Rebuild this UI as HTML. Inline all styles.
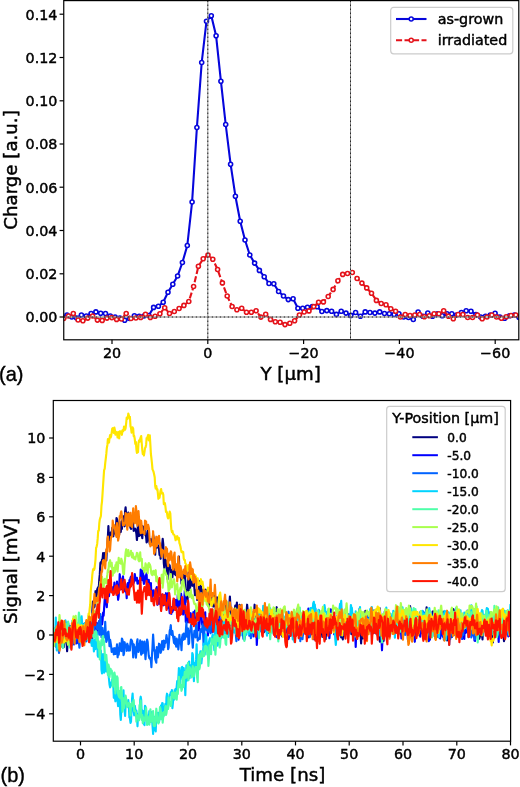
<!DOCTYPE html>
<html><head><meta charset="utf-8"><title>Figure</title>
<style>html,body{margin:0;padding:0;background:#fff;overflow:hidden}body{width:520px;height:787px;position:relative}</style></head>
<body>
<svg width="520" height="787" viewBox="0 0 520 787" style="display:block;position:absolute;left:0;top:0">
<rect x="0" y="0" width="520" height="787" fill="#fff"/>
<defs>
<clipPath id="c1"><rect x="63.75" y="0.6" width="455.04999999999995" height="339.2"/></clipPath>
</defs>
<g clip-path="url(#c1)">
<polyline points="62.2,317.0 67.0,315.0 71.8,317.0 76.6,318.0 81.4,315.0 86.3,316.0 91.1,313.5 95.9,311.9 100.7,313.2 105.5,313.5 110.3,316.0 115.1,317.0 119.9,318.0 124.7,320.3 129.5,318.5 134.4,315.7 139.2,316.2 144.0,316.0 148.8,315.5 153.6,307.4 158.4,306.2 163.2,302.3 168.0,292.3 172.8,284.2 177.6,276.0 182.4,262.5 187.3,245.5 192.1,202.0 196.9,127.5 201.7,62.5 206.5,21.2 211.3,15.8 216.1,35.8 220.9,81.2 225.7,124.5 230.6,164.2 235.4,196.2 240.2,221.2 245.0,240.0 249.8,255.0 254.6,263.1 259.4,270.4 264.2,276.7 269.0,283.5 273.8,283.8 278.6,291.5 283.5,296.0 288.3,299.6 293.1,298.8 297.9,308.3 302.7,308.2 307.5,307.3 312.3,306.6 317.1,306.7 321.9,311.5 326.8,310.6 331.6,311.2 336.4,314.4 341.2,311.2 346.0,313.1 350.8,315.4 355.6,312.5 360.4,316.3 365.2,311.9 370.0,312.5 374.9,313.1 379.7,311.9 384.5,313.5 389.3,313.8 394.1,314.5 398.9,313.8 403.7,317.0 408.5,317.5 413.3,319.5 418.1,312.0 422.9,316.2 427.8,313.0 432.6,316.2 437.4,313.8 442.2,315.8 447.0,313.8 451.8,313.8 456.6,315.0 461.4,312.5 466.2,310.8 471.0,311.2 475.9,314.5 480.7,317.0 485.5,316.2 490.3,315.0 495.1,313.2 499.9,317.0 504.7,318.2 509.5,315.8 514.3,315.0 519.1,317.5" fill="none" stroke="#0606dc" stroke-width="2.1" stroke-linejoin="round"/>
<g fill="#fff" stroke="#0606dc" stroke-width="1.6"><circle cx="62.2" cy="317.0" r="2.0"/><circle cx="67.0" cy="315.0" r="2.0"/><circle cx="71.8" cy="317.0" r="2.0"/><circle cx="76.6" cy="318.0" r="2.0"/><circle cx="81.4" cy="315.0" r="2.0"/><circle cx="86.3" cy="316.0" r="2.0"/><circle cx="91.1" cy="313.5" r="2.0"/><circle cx="95.9" cy="311.9" r="2.0"/><circle cx="100.7" cy="313.2" r="2.0"/><circle cx="105.5" cy="313.5" r="2.0"/><circle cx="110.3" cy="316.0" r="2.0"/><circle cx="115.1" cy="317.0" r="2.0"/><circle cx="119.9" cy="318.0" r="2.0"/><circle cx="124.7" cy="320.3" r="2.0"/><circle cx="129.5" cy="318.5" r="2.0"/><circle cx="134.4" cy="315.7" r="2.0"/><circle cx="139.2" cy="316.2" r="2.0"/><circle cx="144.0" cy="316.0" r="2.0"/><circle cx="148.8" cy="315.5" r="2.0"/><circle cx="153.6" cy="307.4" r="2.0"/><circle cx="158.4" cy="306.2" r="2.0"/><circle cx="163.2" cy="302.3" r="2.0"/><circle cx="168.0" cy="292.3" r="2.0"/><circle cx="172.8" cy="284.2" r="2.0"/><circle cx="177.6" cy="276.0" r="2.0"/><circle cx="182.4" cy="262.5" r="2.0"/><circle cx="187.3" cy="245.5" r="2.0"/><circle cx="192.1" cy="202.0" r="2.0"/><circle cx="196.9" cy="127.5" r="2.0"/><circle cx="201.7" cy="62.5" r="2.0"/><circle cx="206.5" cy="21.2" r="2.0"/><circle cx="211.3" cy="15.8" r="2.0"/><circle cx="216.1" cy="35.8" r="2.0"/><circle cx="220.9" cy="81.2" r="2.0"/><circle cx="225.7" cy="124.5" r="2.0"/><circle cx="230.6" cy="164.2" r="2.0"/><circle cx="235.4" cy="196.2" r="2.0"/><circle cx="240.2" cy="221.2" r="2.0"/><circle cx="245.0" cy="240.0" r="2.0"/><circle cx="249.8" cy="255.0" r="2.0"/><circle cx="254.6" cy="263.1" r="2.0"/><circle cx="259.4" cy="270.4" r="2.0"/><circle cx="264.2" cy="276.7" r="2.0"/><circle cx="269.0" cy="283.5" r="2.0"/><circle cx="273.8" cy="283.8" r="2.0"/><circle cx="278.6" cy="291.5" r="2.0"/><circle cx="283.5" cy="296.0" r="2.0"/><circle cx="288.3" cy="299.6" r="2.0"/><circle cx="293.1" cy="298.8" r="2.0"/><circle cx="297.9" cy="308.3" r="2.0"/><circle cx="302.7" cy="308.2" r="2.0"/><circle cx="307.5" cy="307.3" r="2.0"/><circle cx="312.3" cy="306.6" r="2.0"/><circle cx="317.1" cy="306.7" r="2.0"/><circle cx="321.9" cy="311.5" r="2.0"/><circle cx="326.8" cy="310.6" r="2.0"/><circle cx="331.6" cy="311.2" r="2.0"/><circle cx="336.4" cy="314.4" r="2.0"/><circle cx="341.2" cy="311.2" r="2.0"/><circle cx="346.0" cy="313.1" r="2.0"/><circle cx="350.8" cy="315.4" r="2.0"/><circle cx="355.6" cy="312.5" r="2.0"/><circle cx="360.4" cy="316.3" r="2.0"/><circle cx="365.2" cy="311.9" r="2.0"/><circle cx="370.0" cy="312.5" r="2.0"/><circle cx="374.9" cy="313.1" r="2.0"/><circle cx="379.7" cy="311.9" r="2.0"/><circle cx="384.5" cy="313.5" r="2.0"/><circle cx="389.3" cy="313.8" r="2.0"/><circle cx="394.1" cy="314.5" r="2.0"/><circle cx="398.9" cy="313.8" r="2.0"/><circle cx="403.7" cy="317.0" r="2.0"/><circle cx="408.5" cy="317.5" r="2.0"/><circle cx="413.3" cy="319.5" r="2.0"/><circle cx="418.1" cy="312.0" r="2.0"/><circle cx="422.9" cy="316.2" r="2.0"/><circle cx="427.8" cy="313.0" r="2.0"/><circle cx="432.6" cy="316.2" r="2.0"/><circle cx="437.4" cy="313.8" r="2.0"/><circle cx="442.2" cy="315.8" r="2.0"/><circle cx="447.0" cy="313.8" r="2.0"/><circle cx="451.8" cy="313.8" r="2.0"/><circle cx="456.6" cy="315.0" r="2.0"/><circle cx="461.4" cy="312.5" r="2.0"/><circle cx="466.2" cy="310.8" r="2.0"/><circle cx="471.0" cy="311.2" r="2.0"/><circle cx="475.9" cy="314.5" r="2.0"/><circle cx="480.7" cy="317.0" r="2.0"/><circle cx="485.5" cy="316.2" r="2.0"/><circle cx="490.3" cy="315.0" r="2.0"/><circle cx="495.1" cy="313.2" r="2.0"/><circle cx="499.9" cy="317.0" r="2.0"/><circle cx="504.7" cy="318.2" r="2.0"/><circle cx="509.5" cy="315.8" r="2.0"/><circle cx="514.3" cy="315.0" r="2.0"/><circle cx="519.1" cy="317.5" r="2.0"/></g>
<polyline points="63.7,318.5 68.5,316.0 73.3,313.5 78.1,320.0 82.9,320.8 87.8,318.1 92.6,316.0 97.4,320.1 102.2,320.4 107.0,318.1 111.8,317.6 116.6,319.4 121.4,319.0 126.2,313.5 131.0,318.5 135.9,318.0 140.7,317.4 145.5,314.2 150.3,317.4 155.1,316.2 159.9,313.8 164.7,307.7 169.5,313.5 174.3,311.5 179.1,308.5 183.9,305.4 188.8,301.5 193.6,286.5 198.4,266.2 203.2,258.8 208.0,255.0 212.8,259.2 217.6,269.5 222.4,282.9 227.2,296.0 232.1,306.5 236.9,309.8 241.7,308.3 246.5,312.3 251.3,312.3 256.1,310.8 260.9,317.1 265.7,314.2 270.5,319.4 275.3,321.7 280.1,322.3 285.0,324.6 289.8,323.3 294.6,320.8 299.4,315.0 304.2,312.0 309.0,310.9 313.8,306.6 318.6,302.3 323.4,301.9 328.2,296.5 333.1,289.4 337.9,280.8 342.7,274.4 347.5,273.5 352.3,272.5 357.1,278.5 361.9,283.1 366.7,287.9 371.5,293.3 376.4,300.4 381.2,303.5 386.0,304.8 390.8,308.8 395.6,311.2 400.4,317.0 405.2,314.5 410.0,315.5 414.8,315.0 419.6,314.5 424.4,316.8 429.3,315.8 434.1,313.8 438.9,313.8 443.7,310.8 448.5,316.2 453.3,318.8 458.1,314.5 462.9,314.5 467.7,317.5 472.5,317.5 477.4,315.0 482.2,318.8 487.0,317.0 491.8,315.0 496.6,317.0 501.4,318.2 506.2,316.8 511.0,315.5 515.8,315.0 520.6,316.0" fill="none" stroke="#e4121a" stroke-width="2.1" stroke-linejoin="round" stroke-dasharray="6.1 2.4"/>
<g fill="#fff" stroke="#e4121a" stroke-width="1.6"><circle cx="63.7" cy="318.5" r="2.0"/><circle cx="68.5" cy="316.0" r="2.0"/><circle cx="73.3" cy="313.5" r="2.0"/><circle cx="78.1" cy="320.0" r="2.0"/><circle cx="82.9" cy="320.8" r="2.0"/><circle cx="87.8" cy="318.1" r="2.0"/><circle cx="92.6" cy="316.0" r="2.0"/><circle cx="97.4" cy="320.1" r="2.0"/><circle cx="102.2" cy="320.4" r="2.0"/><circle cx="107.0" cy="318.1" r="2.0"/><circle cx="111.8" cy="317.6" r="2.0"/><circle cx="116.6" cy="319.4" r="2.0"/><circle cx="121.4" cy="319.0" r="2.0"/><circle cx="126.2" cy="313.5" r="2.0"/><circle cx="131.0" cy="318.5" r="2.0"/><circle cx="135.9" cy="318.0" r="2.0"/><circle cx="140.7" cy="317.4" r="2.0"/><circle cx="145.5" cy="314.2" r="2.0"/><circle cx="150.3" cy="317.4" r="2.0"/><circle cx="155.1" cy="316.2" r="2.0"/><circle cx="159.9" cy="313.8" r="2.0"/><circle cx="164.7" cy="307.7" r="2.0"/><circle cx="169.5" cy="313.5" r="2.0"/><circle cx="174.3" cy="311.5" r="2.0"/><circle cx="179.1" cy="308.5" r="2.0"/><circle cx="183.9" cy="305.4" r="2.0"/><circle cx="188.8" cy="301.5" r="2.0"/><circle cx="193.6" cy="286.5" r="2.0"/><circle cx="198.4" cy="266.2" r="2.0"/><circle cx="203.2" cy="258.8" r="2.0"/><circle cx="208.0" cy="255.0" r="2.0"/><circle cx="212.8" cy="259.2" r="2.0"/><circle cx="217.6" cy="269.5" r="2.0"/><circle cx="222.4" cy="282.9" r="2.0"/><circle cx="227.2" cy="296.0" r="2.0"/><circle cx="232.1" cy="306.5" r="2.0"/><circle cx="236.9" cy="309.8" r="2.0"/><circle cx="241.7" cy="308.3" r="2.0"/><circle cx="246.5" cy="312.3" r="2.0"/><circle cx="251.3" cy="312.3" r="2.0"/><circle cx="256.1" cy="310.8" r="2.0"/><circle cx="260.9" cy="317.1" r="2.0"/><circle cx="265.7" cy="314.2" r="2.0"/><circle cx="270.5" cy="319.4" r="2.0"/><circle cx="275.3" cy="321.7" r="2.0"/><circle cx="280.1" cy="322.3" r="2.0"/><circle cx="285.0" cy="324.6" r="2.0"/><circle cx="289.8" cy="323.3" r="2.0"/><circle cx="294.6" cy="320.8" r="2.0"/><circle cx="299.4" cy="315.0" r="2.0"/><circle cx="304.2" cy="312.0" r="2.0"/><circle cx="309.0" cy="310.9" r="2.0"/><circle cx="313.8" cy="306.6" r="2.0"/><circle cx="318.6" cy="302.3" r="2.0"/><circle cx="323.4" cy="301.9" r="2.0"/><circle cx="328.2" cy="296.5" r="2.0"/><circle cx="333.1" cy="289.4" r="2.0"/><circle cx="337.9" cy="280.8" r="2.0"/><circle cx="342.7" cy="274.4" r="2.0"/><circle cx="347.5" cy="273.5" r="2.0"/><circle cx="352.3" cy="272.5" r="2.0"/><circle cx="357.1" cy="278.5" r="2.0"/><circle cx="361.9" cy="283.1" r="2.0"/><circle cx="366.7" cy="287.9" r="2.0"/><circle cx="371.5" cy="293.3" r="2.0"/><circle cx="376.4" cy="300.4" r="2.0"/><circle cx="381.2" cy="303.5" r="2.0"/><circle cx="386.0" cy="304.8" r="2.0"/><circle cx="390.8" cy="308.8" r="2.0"/><circle cx="395.6" cy="311.2" r="2.0"/><circle cx="400.4" cy="317.0" r="2.0"/><circle cx="405.2" cy="314.5" r="2.0"/><circle cx="410.0" cy="315.5" r="2.0"/><circle cx="414.8" cy="315.0" r="2.0"/><circle cx="419.6" cy="314.5" r="2.0"/><circle cx="424.4" cy="316.8" r="2.0"/><circle cx="429.3" cy="315.8" r="2.0"/><circle cx="434.1" cy="313.8" r="2.0"/><circle cx="438.9" cy="313.8" r="2.0"/><circle cx="443.7" cy="310.8" r="2.0"/><circle cx="448.5" cy="316.2" r="2.0"/><circle cx="453.3" cy="318.8" r="2.0"/><circle cx="458.1" cy="314.5" r="2.0"/><circle cx="462.9" cy="314.5" r="2.0"/><circle cx="467.7" cy="317.5" r="2.0"/><circle cx="472.5" cy="317.5" r="2.0"/><circle cx="477.4" cy="315.0" r="2.0"/><circle cx="482.2" cy="318.8" r="2.0"/><circle cx="487.0" cy="317.0" r="2.0"/><circle cx="491.8" cy="315.0" r="2.0"/><circle cx="496.6" cy="317.0" r="2.0"/><circle cx="501.4" cy="318.2" r="2.0"/><circle cx="506.2" cy="316.8" r="2.0"/><circle cx="511.0" cy="315.5" r="2.0"/><circle cx="515.8" cy="315.0" r="2.0"/><circle cx="520.6" cy="316.0" r="2.0"/></g>
<line x1="207.8" x2="207.8" y1="0.6" y2="339.8" stroke="#8a8a8a" stroke-width="1"/>
<line x1="207.8" x2="207.8" y1="0.6" y2="339.8" stroke="#1a1a1a" stroke-width="1" stroke-dasharray="1.3 2.7"/>
<line x1="350.5" x2="350.5" y1="0.6" y2="339.8" stroke="#8a8a8a" stroke-width="1"/>
<line x1="350.5" x2="350.5" y1="0.6" y2="339.8" stroke="#1a1a1a" stroke-width="1" stroke-dasharray="1.3 2.7"/>
<line x1="63.8" x2="518.8" y1="317.0" y2="317.0" stroke="#8a8a8a" stroke-width="1"/>
<line x1="63.8" x2="518.8" y1="317.0" y2="317.0" stroke="#1a1a1a" stroke-width="1" stroke-dasharray="1.3 2.7"/>
</g>
<rect x="63.75" y="0.6" width="455.04999999999995" height="339.2" fill="none" stroke="#000" stroke-width="1.2"/>
<line x1="112.0" x2="112.0" y1="339.8" y2="344.0" stroke="#000" stroke-width="1.2"/><text x="112.0" y="357.7" text-anchor="middle" font-size="14.3" font-family="DejaVu Sans, Liberation Sans, sans-serif" stroke="#000" stroke-width="0.45">20</text><line x1="207.8" x2="207.8" y1="339.8" y2="344.0" stroke="#000" stroke-width="1.2"/><text x="207.8" y="357.7" text-anchor="middle" font-size="14.3" font-family="DejaVu Sans, Liberation Sans, sans-serif" stroke="#000" stroke-width="0.45">0</text><line x1="303.6" x2="303.6" y1="339.8" y2="344.0" stroke="#000" stroke-width="1.2"/><text x="303.6" y="357.7" text-anchor="middle" font-size="14.3" font-family="DejaVu Sans, Liberation Sans, sans-serif" stroke="#000" stroke-width="0.45">−20</text><line x1="399.4" x2="399.4" y1="339.8" y2="344.0" stroke="#000" stroke-width="1.2"/><text x="399.4" y="357.7" text-anchor="middle" font-size="14.3" font-family="DejaVu Sans, Liberation Sans, sans-serif" stroke="#000" stroke-width="0.45">−40</text><line x1="495.2" x2="495.2" y1="339.8" y2="344.0" stroke="#000" stroke-width="1.2"/><text x="495.2" y="357.7" text-anchor="middle" font-size="14.3" font-family="DejaVu Sans, Liberation Sans, sans-serif" stroke="#000" stroke-width="0.45">−60</text><line x1="59.55" x2="63.75" y1="317.0" y2="317.0" stroke="#000" stroke-width="1.2"/><text x="57.4" y="322.4" text-anchor="end" font-size="14.3" font-family="DejaVu Sans, Liberation Sans, sans-serif" stroke="#000" stroke-width="0.45">0.00</text><line x1="59.55" x2="63.75" y1="273.8" y2="273.8" stroke="#000" stroke-width="1.2"/><text x="57.4" y="279.1" text-anchor="end" font-size="14.3" font-family="DejaVu Sans, Liberation Sans, sans-serif" stroke="#000" stroke-width="0.45">0.02</text><line x1="59.55" x2="63.75" y1="230.5" y2="230.5" stroke="#000" stroke-width="1.2"/><text x="57.4" y="235.9" text-anchor="end" font-size="14.3" font-family="DejaVu Sans, Liberation Sans, sans-serif" stroke="#000" stroke-width="0.45">0.04</text><line x1="59.55" x2="63.75" y1="187.2" y2="187.2" stroke="#000" stroke-width="1.2"/><text x="57.4" y="192.7" text-anchor="end" font-size="14.3" font-family="DejaVu Sans, Liberation Sans, sans-serif" stroke="#000" stroke-width="0.45">0.06</text><line x1="59.55" x2="63.75" y1="144.0" y2="144.0" stroke="#000" stroke-width="1.2"/><text x="57.4" y="149.4" text-anchor="end" font-size="14.3" font-family="DejaVu Sans, Liberation Sans, sans-serif" stroke="#000" stroke-width="0.45">0.08</text><line x1="59.55" x2="63.75" y1="100.8" y2="100.8" stroke="#000" stroke-width="1.2"/><text x="57.4" y="106.2" text-anchor="end" font-size="14.3" font-family="DejaVu Sans, Liberation Sans, sans-serif" stroke="#000" stroke-width="0.45">0.10</text><line x1="59.55" x2="63.75" y1="57.5" y2="57.5" stroke="#000" stroke-width="1.2"/><text x="57.4" y="62.9" text-anchor="end" font-size="14.3" font-family="DejaVu Sans, Liberation Sans, sans-serif" stroke="#000" stroke-width="0.45">0.12</text><line x1="59.55" x2="63.75" y1="14.2" y2="14.2" stroke="#000" stroke-width="1.2"/><text x="57.4" y="19.6" text-anchor="end" font-size="14.3" font-family="DejaVu Sans, Liberation Sans, sans-serif" stroke="#000" stroke-width="0.45">0.14</text>
<text x="290.6" y="380" text-anchor="middle" font-size="18.2" font-family="DejaVu Sans, Liberation Sans, sans-serif" stroke="#000" stroke-width="0.45">Y [µm]</text>
<text transform="translate(16.5,170) rotate(-90)" text-anchor="middle" font-size="18.2" font-family="DejaVu Sans, Liberation Sans, sans-serif" stroke="#000" stroke-width="0.45">Charge [a.u.]</text>
<rect x="390.7" y="7.3" width="122.1" height="46.5" rx="3" ry="3" fill="#fff" fill-opacity="0.8" stroke="#ccc" stroke-width="1.2"/>
<line x1="396" x2="426.5" y1="19" y2="19" stroke="#0606dc" stroke-width="2.1"/><circle cx="411.2" cy="19" r="2.0" fill="#fff" stroke="#0606dc" stroke-width="1.5"/>
<line x1="396" x2="426.5" y1="40.3" y2="40.3" stroke="#e4121a" stroke-width="2.1" stroke-dasharray="6.1 2.4"/><circle cx="411.2" cy="40.3" r="2.0" fill="#fff" stroke="#e4121a" stroke-width="1.5"/>
<text x="437.7" y="24.2" font-size="14.3" font-family="DejaVu Sans, Liberation Sans, sans-serif" stroke="#000" stroke-width="0.45">as-grown</text>
<text x="437.7" y="45.3" font-size="14.3" font-family="DejaVu Sans, Liberation Sans, sans-serif" stroke="#000" stroke-width="0.45">irradiated</text>
<text transform="translate(-1.0,380.9) scale(0.96,1)" font-size="20.8" font-family="Liberation Sans, Arial, sans-serif" stroke="#000" stroke-width="0.4">(a)</text>
<clipPath id="c2"><rect x="53.3" y="400.5" width="457.3" height="340.70000000000005"/></clipPath>
<g clip-path="url(#c2)" fill="none" stroke-width="2.15" stroke-linejoin="round">
<polyline points="54.2,638.3 54.7,641.9 55.2,640.4 55.8,640.5 56.3,632.3 56.8,625.2 57.4,633.9 57.9,635.3 58.5,628.6 59.0,627.8 59.5,631.0 60.1,636.5 60.6,632.1 61.1,630.0 61.7,640.3 62.2,640.6 62.8,647.3 63.3,646.9 63.8,647.1 64.4,640.3 64.9,642.1 65.4,635.0 66.0,634.1 66.5,639.9 67.1,651.3 67.6,642.2 68.1,636.0 68.7,636.6 69.2,644.3 69.7,640.6 70.3,640.8 70.8,636.5 71.4,626.6 71.9,632.8 72.4,629.3 73.0,625.1 73.5,632.3 74.0,632.0 74.6,630.6 75.1,632.8 75.7,638.7 76.2,631.0 76.7,625.7 77.3,637.6 77.8,628.9 78.3,631.1 78.9,633.1 79.4,620.7 80.0,627.4 80.5,639.5 81.0,634.3 81.6,630.5 82.1,632.6 82.6,629.2 83.2,630.9 83.7,626.4 84.3,623.9 84.8,634.0 85.3,632.8 85.9,634.1 86.4,632.7 86.9,637.7 87.5,634.2 88.0,628.0 88.6,619.1 89.1,618.1 89.6,630.0 90.2,626.5 90.7,618.9 91.2,627.9 91.8,619.9 92.3,611.3 92.9,601.5 93.4,602.4 93.9,607.4 94.5,606.9 95.0,601.4 95.5,591.2 96.1,597.4 96.6,595.9 97.2,589.5 97.7,588.2 98.2,587.2 98.8,587.5 99.3,579.3 99.8,574.4 100.4,563.1 100.9,562.1 101.5,563.4 102.0,559.6 102.5,560.3 103.1,553.0 103.6,554.4 104.1,553.3 104.7,559.1 105.2,552.9 105.8,560.5 106.3,560.4 106.8,549.1 107.4,546.5 107.9,536.4 108.4,526.0 109.0,540.2 109.5,541.7 110.1,535.4 110.6,532.5 111.1,535.1 111.7,533.8 112.2,527.8 112.7,529.0 113.3,536.3 113.8,532.0 114.4,530.5 114.9,533.4 115.4,527.2 116.0,527.5 116.5,518.0 117.0,519.1 117.6,521.3 118.1,524.4 118.7,525.2 119.2,534.4 119.7,529.9 120.3,523.6 120.8,531.9 121.3,521.8 121.9,528.9 122.4,520.0 123.0,523.1 123.5,516.4 124.0,520.0 124.6,526.3 125.1,511.3 125.6,507.4 126.2,515.5 126.7,518.2 127.3,518.7 127.8,520.6 128.3,512.6 128.9,519.5 129.4,521.2 129.9,525.7 130.5,527.8 131.0,528.9 131.6,518.1 132.1,522.3 132.6,520.0 133.2,525.5 133.7,530.8 134.2,530.2 134.8,530.5 135.3,528.7 135.9,530.9 136.4,533.7 136.9,540.0 137.5,534.9 138.0,522.7 138.5,532.8 139.1,535.9 139.6,526.1 140.2,521.7 140.7,535.2 141.2,532.6 141.8,534.8 142.3,538.2 142.8,526.2 143.4,527.3 143.9,530.0 144.5,534.0 145.0,530.6 145.5,535.1 146.1,536.4 146.6,542.5 147.1,541.7 147.7,530.6 148.2,537.9 148.8,537.6 149.3,540.1 149.8,544.1 150.4,544.1 150.9,539.2 151.4,542.9 152.0,543.1 152.5,540.4 153.1,534.8 153.6,537.6 154.1,542.7 154.7,551.1 155.2,554.6 155.7,542.6 156.3,541.3 156.8,547.7 157.4,546.2 157.9,545.3 158.4,546.2 159.0,549.0 159.5,554.8 160.0,549.1 160.6,558.8 161.1,550.0 161.7,547.8 162.2,544.3 162.7,538.8 163.3,544.5 163.8,562.9 164.3,567.9 164.9,558.2 165.4,565.5 166.0,562.4 166.5,560.6 167.0,575.6 167.6,579.1 168.1,566.2 168.6,564.2 169.2,565.5 169.7,565.4 170.3,571.4 170.8,575.1 171.3,570.0 171.9,574.6 172.4,577.2 172.9,566.8 173.5,566.5 174.0,566.8 174.6,573.8 175.1,574.2 175.6,575.1 176.2,572.8 176.7,567.2 177.2,569.5 177.8,564.4 178.3,560.7 178.9,556.6 179.4,572.1 179.9,566.4 180.5,570.4 181.0,575.2 181.5,583.7 182.1,579.3 182.6,573.0 183.2,576.7 183.7,578.4 184.2,579.0 184.8,573.2 185.3,581.5 185.8,593.9 186.4,589.7 186.9,596.7 187.5,602.1 188.0,585.4 188.5,572.9 189.1,580.4 189.6,590.0 190.1,588.1 190.7,577.6 191.2,581.2 191.8,584.2 192.3,585.8 192.8,585.2 193.4,581.8 193.9,583.5 194.4,588.5 195.0,595.1 195.5,590.6 196.1,594.0 196.6,589.7 197.1,599.9 197.7,596.4 198.2,595.4 198.7,597.9 199.3,581.6 199.8,581.1 200.4,590.7 200.9,586.3 201.4,590.6 202.0,604.2 202.5,591.8 203.0,589.5 203.6,591.7 204.1,598.6 204.7,597.1 205.2,595.1 205.7,589.7 206.3,594.4 206.8,595.9 207.3,590.5 207.9,600.1 208.4,604.0 209.0,607.2 209.5,590.4 210.0,589.6 210.6,591.9 211.1,595.1 211.6,599.8 212.2,601.9 212.7,605.7 213.3,606.5 213.8,603.2 214.3,595.7 214.9,600.2 215.4,606.0 215.9,610.3 216.5,608.4 217.0,597.4 217.6,602.0 218.1,607.7 218.6,612.6 219.2,616.6 219.7,610.3 220.2,605.2 220.8,611.1 221.3,612.1 221.9,611.5 222.4,612.3 222.9,620.4 223.5,616.3 224.0,616.0 224.5,609.4 225.1,614.8 225.6,607.6 226.2,602.1 226.7,611.2 227.2,613.7 227.8,609.0 228.3,609.9 228.8,613.6 229.4,604.1 229.9,596.5 230.5,608.5 231.0,614.0 231.5,618.3 232.1,615.1 232.6,623.4 233.1,622.4 233.7,612.1 234.2,619.0 234.8,609.7 235.3,605.5 235.8,611.2 236.4,608.5 236.9,602.6 237.4,613.9 238.0,620.8 238.5,624.0 239.1,614.7 239.6,604.9 240.1,608.9 240.7,621.6 241.2,624.5 241.7,622.3 242.3,618.7 242.8,620.2 243.4,618.1 243.9,617.3 244.4,619.7 245.0,618.2 245.5,616.5 246.0,617.0 246.6,611.9 247.1,604.7 247.7,610.6 248.2,617.6 248.7,624.8 249.3,617.8 249.8,627.5 250.3,624.8 250.9,611.7 251.4,611.8 252.0,620.7 252.5,630.1 253.0,625.4 253.6,623.4 254.1,613.5 254.6,604.7 255.2,615.5 255.7,624.7 256.3,626.6 256.8,620.9 257.3,622.2 257.9,627.4 258.4,624.6 258.9,628.1 259.5,617.3 260.0,614.3 260.6,616.0 261.1,623.1 261.6,619.9 262.2,622.3 262.7,624.6 263.2,626.2 263.8,632.3 264.3,631.4 264.9,620.0 265.4,622.0 265.9,619.9 266.5,618.8 267.0,632.5 267.5,629.3 268.1,621.6 268.6,619.5 269.2,621.0 269.7,614.3 270.2,618.5 270.8,627.4 271.3,625.1 271.8,615.0 272.4,618.1 272.9,628.0 273.5,613.4 274.0,612.1 274.5,611.7 275.1,621.2 275.6,624.8 276.1,624.1 276.7,607.2 277.2,614.7 277.8,611.1 278.3,620.6 278.8,622.4 279.4,631.3 279.9,625.8 280.4,620.2 281.0,628.6 281.5,619.0 282.1,621.1 282.6,628.3 283.1,625.9 283.7,623.5 284.2,621.6 284.7,624.7 285.3,627.2 285.8,626.4 286.4,631.1 286.9,632.4 287.4,624.3 288.0,620.8 288.5,631.7 289.0,627.4 289.6,629.5 290.1,629.6 290.7,621.0 291.2,623.2 291.7,616.6 292.3,625.5 292.8,623.2 293.3,626.3 293.9,628.8 294.4,623.3 295.0,625.0 295.5,622.6 296.0,626.4 296.6,631.3 297.1,625.9 297.6,621.5 298.2,618.1 298.7,626.3 299.3,626.2 299.8,631.4 300.3,622.4 300.9,630.2 301.4,634.0 301.9,622.3 302.5,616.1 303.0,629.1 303.6,630.3 304.1,629.1 304.6,629.6 305.2,623.8 305.7,628.9 306.2,628.3 306.8,622.4 307.3,626.7 307.9,624.2 308.4,631.9 308.9,637.3 309.5,637.0 310.0,620.2 310.5,627.7 311.1,628.7 311.6,629.7 312.2,629.4 312.7,626.7 313.2,619.5 313.8,633.8 314.3,639.1 314.8,635.9 315.4,633.1 315.9,620.7 316.5,619.6 317.0,630.7 317.5,634.3 318.1,626.4 318.6,621.1 319.1,639.2 319.7,628.6 320.2,630.5 320.8,623.7 321.3,631.9 321.8,631.9 322.4,636.8 322.9,631.4 323.4,617.1 324.0,618.6 324.5,627.6 325.1,634.2 325.6,639.3 326.1,631.8 326.7,627.8 327.2,627.6 327.7,628.8 328.3,632.6 328.8,626.9 329.4,622.2 329.9,612.7 330.4,609.6 331.0,621.2 331.5,626.7 332.0,624.4 332.6,627.4 333.1,628.8 333.7,627.2 334.2,630.0 334.7,622.5 335.3,622.9 335.8,621.3 336.3,623.0 336.9,626.4 337.4,627.0 338.0,623.7 338.5,624.1 339.0,621.6 339.6,625.8 340.1,634.1 340.6,631.4 341.2,637.5 341.7,634.9 342.3,633.8 342.8,639.4 343.3,627.4 343.9,622.7 344.4,623.7 344.9,625.2 345.5,626.4 346.0,629.6 346.6,627.6 347.1,628.2 347.6,627.5 348.2,632.6 348.7,626.3 349.2,624.9 349.8,627.0 350.3,627.5 350.9,625.5 351.4,634.2 351.9,625.2 352.5,622.8 353.0,621.8 353.5,621.6 354.1,626.2 354.6,623.8 355.2,618.3 355.7,618.8 356.2,623.3 356.8,631.1 357.3,621.0 357.8,615.1 358.4,617.2 358.9,625.8 359.5,635.0 360.0,625.3 360.5,632.0 361.1,643.4 361.6,632.1 362.1,638.2 362.7,638.5 363.2,631.1 363.8,620.8 364.3,626.0 364.8,621.4 365.4,610.8 365.9,611.1 366.4,621.2 367.0,626.2 367.5,632.2 368.1,629.3 368.6,622.3 369.1,621.4 369.7,621.7 370.2,619.2 370.7,627.3 371.3,624.7 371.8,619.8 372.4,619.4 372.9,618.2 373.4,622.5 374.0,626.1 374.5,624.3 375.0,631.4 375.6,633.2 376.1,621.8 376.7,622.3 377.2,625.1 377.7,635.6 378.3,631.8 378.8,632.0 379.3,636.0 379.9,641.7 380.4,630.5 381.0,621.1 381.5,623.9 382.0,629.6 382.6,626.1 383.1,625.5 383.6,641.0 384.2,629.3 384.7,620.8 385.3,617.0 385.8,610.7 386.3,612.8 386.9,617.8 387.4,618.2 387.9,617.9 388.5,625.7 389.0,624.8 389.6,618.3 390.1,614.6 390.6,625.7 391.2,627.6 391.7,623.8 392.2,618.0 392.8,621.5 393.3,617.4 393.9,627.4 394.4,625.2 394.9,621.5 395.5,614.5 396.0,614.8 396.5,628.6 397.1,627.1 397.6,620.4 398.2,625.9 398.7,628.7 399.2,615.7 399.8,615.4 400.3,618.1 400.8,622.4 401.4,617.8 401.9,622.4 402.5,620.5 403.0,631.2 403.5,632.7 404.1,627.7 404.6,629.0 405.1,622.0 405.7,623.3 406.2,628.6 406.8,624.4 407.3,623.3 407.8,618.8 408.4,626.3 408.9,625.5 409.4,614.2 410.0,606.0 410.5,608.6 411.1,619.9 411.6,619.6 412.1,613.9 412.7,623.2 413.2,629.2 413.7,623.7 414.3,622.1 414.8,630.6 415.4,637.2 415.9,634.2 416.4,623.7 417.0,628.3 417.5,626.3 418.0,622.8 418.6,621.4 419.1,625.6 419.7,624.7 420.2,631.7 420.7,632.4 421.3,633.1 421.8,623.4 422.3,628.1 422.9,633.0 423.4,630.9 424.0,627.3 424.5,624.2 425.0,634.8 425.6,633.2 426.1,623.6 426.6,607.4 427.2,614.0 427.7,621.5 428.3,616.3 428.8,610.5 429.3,622.4 429.9,624.4 430.4,616.6 430.9,618.5 431.5,620.5 432.0,623.9 432.6,611.7 433.1,611.3 433.6,618.5 434.2,623.7 434.7,636.1 435.2,626.1 435.8,626.8 436.3,624.5 436.9,623.7 437.4,630.9 437.9,636.5 438.5,626.6 439.0,628.2 439.5,626.7 440.1,626.6 440.6,628.0 441.2,634.1 441.7,618.0 442.2,618.0 442.8,614.1 443.3,611.7 443.8,625.9 444.4,639.3 444.9,637.9 445.5,638.0 446.0,633.8 446.5,632.5 447.1,640.4 447.6,632.1 448.1,636.6 448.7,628.8 449.2,628.5 449.8,629.6 450.3,628.8 450.8,631.0 451.4,633.3 451.9,637.0 452.4,625.7 453.0,611.7 453.5,609.2 454.1,614.0 454.6,621.2 455.1,627.9 455.7,620.6 456.2,627.4 456.7,630.8 457.3,632.1 457.8,630.9 458.4,632.4 458.9,631.9 459.4,635.4 460.0,627.9 460.5,613.7 461.0,623.3 461.6,626.0 462.1,621.0 462.7,621.4 463.2,630.9 463.7,626.9 464.3,620.3 464.8,622.9 465.3,622.6 465.9,617.5 466.4,627.4 467.0,627.1 467.5,626.8 468.0,621.2 468.6,637.1 469.1,634.5 469.6,629.8 470.2,622.3 470.7,619.4 471.3,619.0 471.8,631.9 472.3,623.6 472.9,626.3 473.4,627.3 473.9,622.0 474.5,630.0 475.0,636.5 475.6,630.3 476.1,634.2 476.6,630.5 477.2,624.5 477.7,622.4 478.2,618.3 478.8,629.3 479.3,638.8 479.9,636.2 480.4,636.3 480.9,635.7 481.5,627.8 482.0,633.8 482.5,639.5 483.1,626.9 483.6,627.0 484.2,625.7 484.7,625.6 485.2,623.5 485.8,624.2 486.3,618.7 486.8,621.1 487.4,621.8 487.9,624.1 488.5,633.1 489.0,628.9 489.5,627.8 490.1,628.9 490.6,634.3 491.1,622.1 491.7,629.1 492.2,639.8 492.8,642.4 493.3,634.2 493.8,631.8 494.4,634.2 494.9,631.6 495.4,633.2 496.0,629.3 496.5,634.1 497.1,630.3 497.6,620.4 498.1,614.0 498.7,631.4 499.2,633.5 499.7,632.4 500.3,626.4 500.8,634.8 501.4,633.2 501.9,630.8 502.4,635.4 503.0,635.3 503.5,634.1 504.0,641.2 504.6,637.2 505.1,628.3 505.7,623.1 506.2,626.0 506.7,633.7 507.3,626.2 507.8,617.3 508.3,618.4 508.9,624.5 509.4,628.9 510.0,623.8 510.5,630.3" stroke="#000080"/>
<polyline points="54.2,627.8 54.7,629.5 55.2,640.1 55.8,640.7 56.3,646.9 56.8,645.2 57.4,633.3 57.9,634.9 58.5,622.8 59.0,632.4 59.5,637.7 60.1,628.7 60.6,622.5 61.1,631.0 61.7,640.1 62.2,631.0 62.8,625.0 63.3,635.1 63.8,637.1 64.4,628.5 64.9,632.8 65.4,639.9 66.0,637.2 66.5,636.0 67.1,629.9 67.6,627.8 68.1,622.8 68.7,627.8 69.2,639.7 69.7,631.1 70.3,626.0 70.8,626.9 71.4,626.2 71.9,635.1 72.4,637.0 73.0,629.4 73.5,640.0 74.0,644.5 74.6,629.5 75.1,634.4 75.7,636.1 76.2,642.1 76.7,643.3 77.3,641.2 77.8,635.3 78.3,633.7 78.9,643.9 79.4,632.6 80.0,639.5 80.5,639.5 81.0,630.7 81.6,635.6 82.1,641.2 82.6,627.8 83.2,637.2 83.7,634.0 84.3,629.6 84.8,623.9 85.3,629.9 85.9,626.2 86.4,632.2 86.9,627.9 87.5,637.5 88.0,636.3 88.6,625.9 89.1,633.0 89.6,633.8 90.2,624.2 90.7,633.6 91.2,640.4 91.8,634.6 92.3,638.5 92.9,625.3 93.4,621.8 93.9,630.2 94.5,630.4 95.0,624.6 95.5,624.7 96.1,627.5 96.6,622.9 97.2,633.3 97.7,627.5 98.2,624.8 98.8,622.8 99.3,620.8 99.8,625.2 100.4,616.3 100.9,617.3 101.5,621.0 102.0,624.5 102.5,621.2 103.1,612.7 103.6,615.6 104.1,608.5 104.7,599.4 105.2,595.5 105.8,593.5 106.3,603.6 106.8,607.1 107.4,596.4 107.9,595.9 108.4,593.3 109.0,596.2 109.5,590.2 110.1,589.5 110.6,589.9 111.1,590.5 111.7,590.8 112.2,591.2 112.7,589.8 113.3,586.9 113.8,591.1 114.4,582.6 114.9,588.9 115.4,587.2 116.0,592.6 116.5,591.8 117.0,581.5 117.6,592.6 118.1,599.8 118.7,596.0 119.2,587.8 119.7,574.2 120.3,580.1 120.8,580.9 121.3,589.2 121.9,583.9 122.4,579.1 123.0,576.4 123.5,588.1 124.0,584.4 124.6,585.6 125.1,591.5 125.6,587.0 126.2,589.7 126.7,598.2 127.3,584.7 127.8,583.0 128.3,590.9 128.9,593.9 129.4,580.2 129.9,581.7 130.5,578.0 131.0,576.7 131.6,584.9 132.1,580.6 132.6,583.8 133.2,583.6 133.7,582.8 134.2,580.0 134.8,574.1 135.3,578.0 135.9,580.5 136.4,580.0 136.9,577.9 137.5,583.6 138.0,582.8 138.5,580.9 139.1,583.5 139.6,583.3 140.2,582.6 140.7,569.5 141.2,571.5 141.8,578.9 142.3,580.2 142.8,570.7 143.4,579.3 143.9,584.0 144.5,582.2 145.0,579.8 145.5,575.3 146.1,579.1 146.6,573.4 147.1,586.3 147.7,584.9 148.2,589.7 148.8,579.9 149.3,589.1 149.8,589.8 150.4,583.2 150.9,583.1 151.4,595.1 152.0,595.2 152.5,597.7 153.1,590.5 153.6,590.4 154.1,593.3 154.7,595.9 155.2,595.9 155.7,596.3 156.3,588.6 156.8,587.1 157.4,604.8 157.9,601.0 158.4,600.0 159.0,597.8 159.5,603.8 160.0,602.0 160.6,603.0 161.1,594.6 161.7,595.9 162.2,597.5 162.7,595.5 163.3,600.0 163.8,605.3 164.3,595.2 164.9,595.3 165.4,598.1 166.0,593.2 166.5,594.8 167.0,608.6 167.6,607.0 168.1,593.0 168.6,593.7 169.2,607.7 169.7,613.1 170.3,610.6 170.8,610.4 171.3,613.8 171.9,607.2 172.4,612.0 172.9,610.4 173.5,600.5 174.0,606.8 174.6,605.3 175.1,600.4 175.6,600.0 176.2,605.6 176.7,606.0 177.2,606.7 177.8,594.7 178.3,600.6 178.9,611.6 179.4,607.0 179.9,601.8 180.5,600.3 181.0,593.5 181.5,597.2 182.1,608.7 182.6,610.5 183.2,614.5 183.7,607.2 184.2,601.6 184.8,590.6 185.3,606.1 185.8,621.9 186.4,617.0 186.9,613.9 187.5,622.0 188.0,622.3 188.5,618.5 189.1,614.8 189.6,617.9 190.1,620.4 190.7,613.2 191.2,618.0 191.8,620.2 192.3,623.7 192.8,618.6 193.4,612.2 193.9,621.4 194.4,615.1 195.0,610.6 195.5,615.9 196.1,616.7 196.6,621.0 197.1,609.4 197.7,608.8 198.2,617.6 198.7,630.3 199.3,626.7 199.8,613.2 200.4,608.7 200.9,615.2 201.4,615.0 202.0,624.4 202.5,624.5 203.0,622.0 203.6,621.7 204.1,628.4 204.7,615.3 205.2,612.3 205.7,626.3 206.3,628.5 206.8,620.6 207.3,627.4 207.9,635.4 208.4,621.0 209.0,621.9 209.5,623.3 210.0,612.2 210.6,621.7 211.1,628.8 211.6,626.9 212.2,632.0 212.7,630.4 213.3,624.7 213.8,628.7 214.3,626.8 214.9,615.5 215.4,617.3 215.9,619.1 216.5,620.4 217.0,619.1 217.6,615.0 218.1,619.2 218.6,614.2 219.2,627.2 219.7,629.2 220.2,633.6 220.8,627.7 221.3,619.0 221.9,614.3 222.4,623.5 222.9,622.6 223.5,624.3 224.0,628.2 224.5,630.1 225.1,626.5 225.6,633.0 226.2,625.1 226.7,624.3 227.2,629.3 227.8,633.2 228.3,631.3 228.8,617.5 229.4,627.9 229.9,617.5 230.5,621.2 231.0,630.5 231.5,634.2 232.1,621.8 232.6,618.6 233.1,632.3 233.7,630.2 234.2,622.0 234.8,621.6 235.3,616.6 235.8,627.9 236.4,627.9 236.9,631.8 237.4,618.1 238.0,631.0 238.5,639.6 239.1,628.3 239.6,621.5 240.1,612.3 240.7,622.3 241.2,623.0 241.7,617.8 242.3,613.6 242.8,620.4 243.4,617.2 243.9,619.9 244.4,625.3 245.0,624.7 245.5,626.4 246.0,629.5 246.6,622.5 247.1,631.5 247.7,621.1 248.2,621.0 248.7,629.7 249.3,635.6 249.8,633.1 250.3,627.9 250.9,625.4 251.4,625.7 252.0,623.5 252.5,629.9 253.0,630.0 253.6,636.5 254.1,626.8 254.6,628.3 255.2,630.6 255.7,622.7 256.3,628.1 256.8,645.0 257.3,635.0 257.9,635.4 258.4,620.2 258.9,612.1 259.5,626.8 260.0,628.0 260.6,627.9 261.1,624.2 261.6,620.6 262.2,619.9 262.7,629.0 263.2,621.1 263.8,630.4 264.3,625.2 264.9,618.1 265.4,621.1 265.9,630.6 266.5,631.0 267.0,628.9 267.5,625.0 268.1,621.9 268.6,633.0 269.2,626.6 269.7,623.6 270.2,623.9 270.8,622.7 271.3,617.7 271.8,621.2 272.4,620.4 272.9,619.0 273.5,616.8 274.0,631.3 274.5,619.4 275.1,623.5 275.6,626.8 276.1,632.5 276.7,637.2 277.2,630.6 277.8,628.9 278.3,625.5 278.8,631.3 279.4,618.9 279.9,622.6 280.4,628.6 281.0,632.8 281.5,634.9 282.1,636.4 282.6,632.6 283.1,628.4 283.7,630.2 284.2,635.8 284.7,631.6 285.3,631.9 285.8,623.9 286.4,613.9 286.9,619.9 287.4,629.2 288.0,638.0 288.5,639.1 289.0,636.9 289.6,625.4 290.1,629.8 290.7,628.5 291.2,630.5 291.7,625.3 292.3,619.0 292.8,628.1 293.3,628.7 293.9,627.5 294.4,620.4 295.0,629.0 295.5,632.8 296.0,634.6 296.6,632.4 297.1,618.2 297.6,608.5 298.2,623.9 298.7,619.1 299.3,623.0 299.8,631.7 300.3,629.7 300.9,629.7 301.4,629.0 301.9,620.1 302.5,635.5 303.0,627.1 303.6,624.3 304.1,627.4 304.6,622.0 305.2,616.3 305.7,618.2 306.2,617.0 306.8,619.5 307.3,631.4 307.9,615.1 308.4,608.6 308.9,616.0 309.5,621.5 310.0,633.4 310.5,629.7 311.1,631.2 311.6,628.7 312.2,622.3 312.7,630.2 313.2,632.0 313.8,639.1 314.3,630.7 314.8,627.3 315.4,631.0 315.9,627.7 316.5,616.0 317.0,629.8 317.5,632.9 318.1,628.5 318.6,615.5 319.1,610.6 319.7,621.9 320.2,630.6 320.8,628.1 321.3,621.5 321.8,627.5 322.4,616.5 322.9,615.3 323.4,622.5 324.0,620.8 324.5,618.0 325.1,617.0 325.6,628.3 326.1,621.7 326.7,628.4 327.2,631.8 327.7,627.4 328.3,628.9 328.8,634.6 329.4,638.2 329.9,631.3 330.4,614.8 331.0,609.5 331.5,615.3 332.0,616.6 332.6,625.7 333.1,625.9 333.7,626.2 334.2,634.4 334.7,634.7 335.3,628.7 335.8,630.0 336.3,632.0 336.9,624.6 337.4,623.7 338.0,618.3 338.5,622.9 339.0,625.7 339.6,624.2 340.1,626.4 340.6,629.7 341.2,627.8 341.7,621.3 342.3,619.8 342.8,620.7 343.3,635.0 343.9,630.8 344.4,626.9 344.9,623.4 345.5,625.8 346.0,625.1 346.6,618.8 347.1,623.2 347.6,629.2 348.2,617.6 348.7,618.5 349.2,626.2 349.8,622.2 350.3,626.2 350.9,619.3 351.4,625.5 351.9,630.7 352.5,630.0 353.0,630.4 353.5,625.2 354.1,623.6 354.6,624.8 355.2,633.0 355.7,647.0 356.2,632.9 356.8,636.8 357.3,626.2 357.8,619.0 358.4,623.2 358.9,627.1 359.5,625.7 360.0,624.9 360.5,627.0 361.1,628.3 361.6,627.4 362.1,617.4 362.7,620.1 363.2,618.0 363.8,623.2 364.3,623.6 364.8,624.1 365.4,620.8 365.9,619.4 366.4,624.1 367.0,630.4 367.5,628.0 368.1,615.4 368.6,622.2 369.1,621.7 369.7,611.6 370.2,612.2 370.7,617.8 371.3,620.4 371.8,608.6 372.4,615.9 372.9,618.8 373.4,624.5 374.0,632.6 374.5,631.2 375.0,620.7 375.6,619.2 376.1,624.6 376.7,631.9 377.2,634.1 377.7,630.6 378.3,633.4 378.8,621.9 379.3,615.3 379.9,608.4 380.4,619.9 381.0,631.8 381.5,639.2 382.0,650.3 382.6,636.2 383.1,627.5 383.6,620.7 384.2,621.4 384.7,622.9 385.3,624.5 385.8,620.9 386.3,618.7 386.9,631.1 387.4,632.7 387.9,633.4 388.5,618.2 389.0,617.3 389.6,624.4 390.1,634.8 390.6,629.8 391.2,629.2 391.7,627.9 392.2,627.8 392.8,625.3 393.3,627.8 393.9,622.4 394.4,624.3 394.9,627.2 395.5,626.5 396.0,625.6 396.5,619.9 397.1,623.6 397.6,623.2 398.2,628.7 398.7,633.6 399.2,625.0 399.8,631.5 400.3,625.0 400.8,627.2 401.4,638.5 401.9,636.1 402.5,632.2 403.0,633.3 403.5,632.5 404.1,622.7 404.6,624.5 405.1,623.4 405.7,626.6 406.2,625.5 406.8,630.0 407.3,626.5 407.8,622.5 408.4,625.3 408.9,629.7 409.4,632.2 410.0,625.3 410.5,623.3 411.1,627.6 411.6,630.1 412.1,621.0 412.7,612.6 413.2,626.0 413.7,626.5 414.3,629.2 414.8,641.8 415.4,630.5 415.9,627.8 416.4,618.8 417.0,626.3 417.5,631.1 418.0,628.0 418.6,626.1 419.1,629.5 419.7,630.3 420.2,636.6 420.7,631.1 421.3,622.1 421.8,615.2 422.3,621.1 422.9,623.6 423.4,618.6 424.0,617.0 424.5,614.4 425.0,618.8 425.6,626.5 426.1,626.1 426.6,625.5 427.2,624.6 427.7,626.1 428.3,633.9 428.8,641.1 429.3,636.7 429.9,639.6 430.4,629.2 430.9,628.8 431.5,635.2 432.0,623.2 432.6,619.7 433.1,621.6 433.6,613.0 434.2,613.8 434.7,628.4 435.2,620.6 435.8,621.3 436.3,622.2 436.9,622.5 437.4,632.2 437.9,634.8 438.5,636.1 439.0,634.9 439.5,632.6 440.1,638.5 440.6,635.1 441.2,625.1 441.7,625.2 442.2,626.1 442.8,636.8 443.3,632.9 443.8,628.9 444.4,626.0 444.9,626.7 445.5,620.3 446.0,624.1 446.5,625.4 447.1,624.4 447.6,621.9 448.1,625.1 448.7,618.0 449.2,619.9 449.8,623.0 450.3,623.8 450.8,620.8 451.4,617.5 451.9,617.9 452.4,620.3 453.0,618.7 453.5,620.1 454.1,616.1 454.6,625.2 455.1,634.8 455.7,620.2 456.2,625.0 456.7,633.4 457.3,630.6 457.8,628.4 458.4,613.3 458.9,620.6 459.4,631.4 460.0,622.9 460.5,621.8 461.0,614.1 461.6,630.4 462.1,638.9 462.7,628.1 463.2,627.8 463.7,631.9 464.3,638.9 464.8,624.4 465.3,618.4 465.9,632.8 466.4,621.9 467.0,622.9 467.5,610.7 468.0,618.7 468.6,623.6 469.1,618.0 469.6,621.5 470.2,627.4 470.7,623.6 471.3,631.3 471.8,635.7 472.3,619.1 472.9,628.6 473.4,632.9 473.9,630.8 474.5,640.6 475.0,640.9 475.6,635.3 476.1,633.0 476.6,627.7 477.2,622.8 477.7,629.2 478.2,625.3 478.8,625.1 479.3,632.2 479.9,628.0 480.4,629.5 480.9,619.8 481.5,620.7 482.0,625.8 482.5,632.1 483.1,626.7 483.6,627.8 484.2,622.2 484.7,626.7 485.2,630.1 485.8,621.6 486.3,622.5 486.8,628.1 487.4,621.8 487.9,627.7 488.5,629.2 489.0,627.9 489.5,632.0 490.1,631.0 490.6,626.2 491.1,615.5 491.7,615.6 492.2,623.1 492.8,617.0 493.3,623.3 493.8,622.5 494.4,619.7 494.9,619.3 495.4,610.7 496.0,622.4 496.5,630.2 497.1,619.8 497.6,626.0 498.1,631.9 498.7,641.9 499.2,622.7 499.7,618.3 500.3,618.9 500.8,617.2 501.4,615.6 501.9,623.7 502.4,623.2 503.0,631.2 503.5,629.4 504.0,621.4 504.6,625.8 505.1,634.5 505.7,627.6 506.2,629.0 506.7,631.3 507.3,625.5 507.8,629.6 508.3,636.4 508.9,630.5 509.4,617.0 510.0,629.1 510.5,622.5" stroke="#0000ff"/>
<polyline points="54.2,634.1 54.7,640.4 55.2,636.8 55.8,636.2 56.3,637.4 56.8,631.2 57.4,629.1 57.9,640.4 58.5,646.0 59.0,652.9 59.5,642.8 60.1,642.0 60.6,646.6 61.1,633.3 61.7,629.0 62.2,635.1 62.8,636.0 63.3,636.9 63.8,631.6 64.4,640.3 64.9,633.5 65.4,621.5 66.0,628.3 66.5,629.8 67.1,634.8 67.6,640.8 68.1,636.4 68.7,635.0 69.2,640.6 69.7,633.5 70.3,626.3 70.8,629.4 71.4,643.6 71.9,645.1 72.4,644.4 73.0,631.3 73.5,630.2 74.0,632.5 74.6,641.5 75.1,643.4 75.7,636.4 76.2,635.3 76.7,638.7 77.3,633.5 77.8,629.9 78.3,633.3 78.9,642.4 79.4,647.6 80.0,638.3 80.5,634.3 81.0,637.0 81.6,639.7 82.1,640.2 82.6,634.2 83.2,636.3 83.7,637.6 84.3,642.2 84.8,639.6 85.3,635.2 85.9,640.0 86.4,641.3 86.9,634.4 87.5,626.2 88.0,628.0 88.6,624.2 89.1,630.8 89.6,634.7 90.2,639.1 90.7,632.8 91.2,621.9 91.8,624.8 92.3,624.2 92.9,624.6 93.4,628.7 93.9,630.1 94.5,627.6 95.0,624.2 95.5,624.1 96.1,623.8 96.6,625.7 97.2,629.3 97.7,627.7 98.2,627.6 98.8,622.2 99.3,634.8 99.8,626.0 100.4,614.1 100.9,628.5 101.5,637.3 102.0,632.6 102.5,627.9 103.1,634.7 103.6,634.3 104.1,637.5 104.7,636.4 105.2,621.9 105.8,634.9 106.3,642.0 106.8,640.6 107.4,634.7 107.9,632.4 108.4,631.6 109.0,637.8 109.5,646.1 110.1,639.8 110.6,642.7 111.1,646.0 111.7,652.0 112.2,649.6 112.7,649.1 113.3,648.5 113.8,654.3 114.4,648.5 114.9,648.1 115.4,654.0 116.0,652.7 116.5,649.9 117.0,644.3 117.6,657.3 118.1,651.6 118.7,654.7 119.2,648.8 119.7,643.3 120.3,649.9 120.8,650.0 121.3,651.1 121.9,638.5 122.4,639.7 123.0,642.8 123.5,655.2 124.0,653.7 124.6,642.2 125.1,645.5 125.6,646.2 126.2,645.1 126.7,650.8 127.3,643.7 127.8,645.5 128.3,646.3 128.9,650.7 129.4,647.6 129.9,650.5 130.5,642.8 131.0,639.5 131.6,640.2 132.1,641.3 132.6,644.6 133.2,657.5 133.7,644.3 134.2,646.1 134.8,647.5 135.3,651.7 135.9,657.6 136.4,652.3 136.9,642.7 137.5,639.3 138.0,650.1 138.5,652.0 139.1,643.5 139.6,650.0 140.2,640.4 140.7,649.2 141.2,654.7 141.8,644.2 142.3,641.5 142.8,653.3 143.4,643.0 143.9,646.3 144.5,641.6 145.0,651.7 145.5,659.2 146.1,650.3 146.6,645.0 147.1,639.6 147.7,642.0 148.2,649.4 148.8,656.0 149.3,658.1 149.8,657.7 150.4,659.4 150.9,659.9 151.4,667.2 152.0,654.5 152.5,647.1 153.1,634.6 153.6,642.5 154.1,650.7 154.7,650.0 155.2,658.9 155.7,660.6 156.3,662.7 156.8,647.0 157.4,648.9 157.9,657.4 158.4,651.3 159.0,643.7 159.5,644.2 160.0,646.6 160.6,652.8 161.1,651.6 161.7,645.2 162.2,641.0 162.7,649.2 163.3,649.7 163.8,640.6 164.3,647.1 164.9,641.1 165.4,643.0 166.0,639.7 166.5,635.1 167.0,638.8 167.6,641.0 168.1,649.1 168.6,647.6 169.2,638.1 169.7,630.9 170.3,628.5 170.8,625.2 171.3,633.9 171.9,634.9 172.4,631.1 172.9,635.3 173.5,639.1 174.0,642.9 174.6,636.9 175.1,644.2 175.6,641.5 176.2,646.7 176.7,638.5 177.2,644.4 177.8,640.4 178.3,649.5 178.9,643.6 179.4,634.9 179.9,641.6 180.5,639.5 181.0,643.3 181.5,650.1 182.1,637.4 182.6,634.6 183.2,639.8 183.7,633.5 184.2,638.1 184.8,639.0 185.3,634.2 185.8,632.4 186.4,622.3 186.9,636.6 187.5,629.0 188.0,628.5 188.5,644.1 189.1,643.2 189.6,631.0 190.1,631.9 190.7,627.3 191.2,624.2 191.8,632.8 192.3,641.4 192.8,647.7 193.4,635.4 193.9,636.0 194.4,630.9 195.0,632.2 195.5,637.5 196.1,624.0 196.6,624.3 197.1,629.8 197.7,640.6 198.2,639.2 198.7,638.3 199.3,638.1 199.8,639.0 200.4,630.9 200.9,629.2 201.4,629.7 202.0,631.8 202.5,624.3 203.0,631.3 203.6,645.2 204.1,635.7 204.7,627.3 205.2,622.2 205.7,627.7 206.3,629.7 206.8,630.1 207.3,624.7 207.9,629.2 208.4,631.8 209.0,630.9 209.5,624.9 210.0,629.8 210.6,633.2 211.1,622.6 211.6,624.9 212.2,621.4 212.7,620.2 213.3,617.6 213.8,621.2 214.3,630.9 214.9,632.6 215.4,633.8 215.9,619.9 216.5,621.0 217.0,620.0 217.6,631.2 218.1,639.0 218.6,623.8 219.2,626.5 219.7,627.7 220.2,626.4 220.8,622.9 221.3,625.5 221.9,633.7 222.4,623.9 222.9,628.6 223.5,626.7 224.0,614.6 224.5,617.2 225.1,627.1 225.6,634.5 226.2,625.1 226.7,621.5 227.2,626.5 227.8,633.5 228.3,633.2 228.8,632.8 229.4,623.8 229.9,617.5 230.5,617.4 231.0,625.3 231.5,622.0 232.1,620.8 232.6,626.5 233.1,623.7 233.7,614.4 234.2,622.3 234.8,624.5 235.3,631.5 235.8,634.0 236.4,641.1 236.9,632.0 237.4,620.7 238.0,614.1 238.5,617.6 239.1,622.1 239.6,627.3 240.1,631.7 240.7,629.5 241.2,626.6 241.7,630.4 242.3,624.6 242.8,633.2 243.4,639.0 243.9,637.0 244.4,639.7 245.0,636.2 245.5,624.4 246.0,628.2 246.6,626.7 247.1,620.7 247.7,621.1 248.2,627.9 248.7,621.4 249.3,624.7 249.8,627.7 250.3,628.8 250.9,638.1 251.4,636.5 252.0,631.0 252.5,627.3 253.0,630.9 253.6,628.6 254.1,620.8 254.6,617.1 255.2,618.8 255.7,618.8 256.3,626.6 256.8,626.9 257.3,623.4 257.9,625.9 258.4,624.9 258.9,616.2 259.5,625.5 260.0,631.4 260.6,623.4 261.1,616.7 261.6,623.0 262.2,620.8 262.7,627.7 263.2,629.7 263.8,629.2 264.3,623.0 264.9,614.9 265.4,624.8 265.9,617.0 266.5,626.9 267.0,624.8 267.5,618.2 268.1,618.6 268.6,624.0 269.2,633.0 269.7,626.9 270.2,626.9 270.8,612.4 271.3,621.9 271.8,625.1 272.4,631.1 272.9,630.7 273.5,631.6 274.0,622.3 274.5,625.1 275.1,624.0 275.6,629.2 276.1,626.9 276.7,619.0 277.2,629.4 277.8,633.2 278.3,623.4 278.8,627.4 279.4,623.7 279.9,617.9 280.4,623.8 281.0,619.5 281.5,623.2 282.1,613.9 282.6,614.6 283.1,625.0 283.7,627.4 284.2,629.3 284.7,623.0 285.3,619.2 285.8,628.1 286.4,620.6 286.9,628.3 287.4,629.7 288.0,628.8 288.5,611.7 289.0,618.2 289.6,622.2 290.1,625.6 290.7,622.2 291.2,634.7 291.7,624.3 292.3,613.0 292.8,624.4 293.3,625.6 293.9,624.0 294.4,630.4 295.0,626.2 295.5,620.3 296.0,622.5 296.6,623.2 297.1,626.0 297.6,623.9 298.2,623.0 298.7,617.4 299.3,621.6 299.8,631.7 300.3,641.1 300.9,626.2 301.4,623.1 301.9,632.9 302.5,639.1 303.0,632.2 303.6,622.0 304.1,629.5 304.6,628.5 305.2,623.1 305.7,618.7 306.2,624.5 306.8,627.3 307.3,626.9 307.9,616.4 308.4,618.7 308.9,628.4 309.5,637.0 310.0,633.8 310.5,627.0 311.1,629.6 311.6,622.3 312.2,621.9 312.7,621.0 313.2,617.8 313.8,618.8 314.3,624.9 314.8,619.5 315.4,608.5 315.9,623.5 316.5,622.7 317.0,616.2 317.5,623.8 318.1,632.3 318.6,635.7 319.1,626.6 319.7,620.8 320.2,618.7 320.8,622.5 321.3,619.8 321.8,626.7 322.4,622.8 322.9,623.9 323.4,619.4 324.0,614.8 324.5,615.8 325.1,624.5 325.6,618.0 326.1,626.0 326.7,630.5 327.2,628.1 327.7,631.6 328.3,624.2 328.8,620.9 329.4,622.1 329.9,620.1 330.4,623.6 331.0,625.0 331.5,630.2 332.0,624.8 332.6,626.9 333.1,625.4 333.7,622.7 334.2,623.5 334.7,633.5 335.3,634.1 335.8,625.9 336.3,619.9 336.9,618.7 337.4,615.6 338.0,614.2 338.5,619.8 339.0,626.6 339.6,634.3 340.1,635.6 340.6,632.2 341.2,626.9 341.7,625.3 342.3,625.3 342.8,624.1 343.3,619.6 343.9,620.2 344.4,620.0 344.9,621.0 345.5,626.6 346.0,628.8 346.6,621.8 347.1,621.8 347.6,626.4 348.2,624.8 348.7,614.0 349.2,625.8 349.8,625.6 350.3,623.6 350.9,628.8 351.4,621.3 351.9,611.6 352.5,615.0 353.0,618.6 353.5,620.7 354.1,623.1 354.6,621.3 355.2,627.1 355.7,629.4 356.2,625.5 356.8,620.6 357.3,621.8 357.8,624.1 358.4,634.1 358.9,618.3 359.5,608.9 360.0,615.3 360.5,626.8 361.1,630.8 361.6,627.4 362.1,630.9 362.7,625.2 363.2,627.8 363.8,620.7 364.3,621.2 364.8,636.5 365.4,630.2 365.9,634.0 366.4,638.6 367.0,634.6 367.5,629.0 368.1,624.0 368.6,632.0 369.1,619.4 369.7,612.5 370.2,619.9 370.7,623.9 371.3,629.5 371.8,634.6 372.4,626.7 372.9,624.2 373.4,619.2 374.0,610.3 374.5,617.6 375.0,619.5 375.6,617.3 376.1,631.7 376.7,633.9 377.2,630.0 377.7,628.6 378.3,622.4 378.8,622.6 379.3,612.2 379.9,611.4 380.4,617.5 381.0,623.8 381.5,619.7 382.0,619.7 382.6,627.5 383.1,621.2 383.6,617.5 384.2,617.8 384.7,611.5 385.3,614.8 385.8,625.8 386.3,625.2 386.9,627.9 387.4,624.0 387.9,628.1 388.5,621.4 389.0,621.4 389.6,620.6 390.1,627.7 390.6,631.7 391.2,617.6 391.7,621.1 392.2,616.1 392.8,618.7 393.3,617.0 393.9,612.3 394.4,617.4 394.9,617.2 395.5,628.2 396.0,620.5 396.5,623.5 397.1,624.8 397.6,623.9 398.2,620.5 398.7,617.8 399.2,632.8 399.8,628.2 400.3,627.3 400.8,620.7 401.4,626.5 401.9,625.9 402.5,628.8 403.0,624.0 403.5,622.6 404.1,629.1 404.6,630.2 405.1,634.9 405.7,626.2 406.2,622.6 406.8,627.3 407.3,624.3 407.8,639.2 408.4,641.4 408.9,636.8 409.4,630.0 410.0,625.6 410.5,624.9 411.1,623.2 411.6,619.6 412.1,625.4 412.7,630.9 413.2,626.8 413.7,614.2 414.3,631.4 414.8,623.3 415.4,612.8 415.9,618.1 416.4,625.8 417.0,621.9 417.5,615.3 418.0,614.8 418.6,623.5 419.1,617.7 419.7,616.9 420.2,612.3 420.7,611.7 421.3,622.4 421.8,628.7 422.3,618.8 422.9,611.2 423.4,617.2 424.0,619.0 424.5,612.6 425.0,625.9 425.6,621.7 426.1,626.2 426.6,624.9 427.2,622.1 427.7,617.9 428.3,629.3 428.8,632.3 429.3,634.9 429.9,626.1 430.4,627.2 430.9,625.7 431.5,632.0 432.0,628.4 432.6,621.2 433.1,624.4 433.6,620.8 434.2,620.3 434.7,626.1 435.2,629.8 435.8,618.2 436.3,618.1 436.9,618.8 437.4,633.8 437.9,636.5 438.5,637.2 439.0,628.9 439.5,618.2 440.1,620.3 440.6,625.3 441.2,625.0 441.7,623.1 442.2,627.1 442.8,625.0 443.3,628.7 443.8,639.8 444.4,630.9 444.9,621.5 445.5,628.8 446.0,630.4 446.5,632.1 447.1,629.2 447.6,621.3 448.1,627.2 448.7,635.8 449.2,644.8 449.8,635.4 450.3,639.1 450.8,635.9 451.4,620.3 451.9,619.9 452.4,630.1 453.0,618.8 453.5,619.2 454.1,625.4 454.6,622.8 455.1,634.0 455.7,635.6 456.2,636.0 456.7,631.7 457.3,623.3 457.8,632.8 458.4,634.9 458.9,632.4 459.4,627.0 460.0,627.4 460.5,624.4 461.0,633.2 461.6,638.3 462.1,634.6 462.7,632.1 463.2,634.8 463.7,626.4 464.3,618.2 464.8,627.1 465.3,623.5 465.9,616.7 466.4,625.2 467.0,628.9 467.5,628.7 468.0,621.4 468.6,620.7 469.1,625.3 469.6,624.8 470.2,619.7 470.7,624.9 471.3,637.4 471.8,633.5 472.3,630.4 472.9,627.9 473.4,632.2 473.9,634.8 474.5,635.4 475.0,639.3 475.6,631.6 476.1,630.3 476.6,626.5 477.2,631.6 477.7,630.0 478.2,631.0 478.8,628.6 479.3,619.5 479.9,621.6 480.4,620.2 480.9,626.4 481.5,625.0 482.0,632.6 482.5,629.5 483.1,627.5 483.6,623.1 484.2,625.4 484.7,627.4 485.2,623.7 485.8,625.2 486.3,622.7 486.8,620.3 487.4,622.8 487.9,622.5 488.5,619.1 489.0,620.7 489.5,616.4 490.1,612.3 490.6,615.5 491.1,625.5 491.7,632.2 492.2,628.2 492.8,626.2 493.3,621.9 493.8,627.8 494.4,626.7 494.9,621.8 495.4,625.8 496.0,622.6 496.5,612.0 497.1,612.2 497.6,618.5 498.1,624.2 498.7,630.3 499.2,624.9 499.7,625.9 500.3,626.7 500.8,629.3 501.4,626.7 501.9,625.1 502.4,620.1 503.0,614.2 503.5,621.4 504.0,633.6 504.6,633.9 505.1,635.5 505.7,629.8 506.2,621.0 506.7,621.0 507.3,625.6 507.8,624.0 508.3,629.9 508.9,635.4 509.4,635.6 510.0,629.3 510.5,619.6" stroke="#0063ff"/>
<polyline points="54.2,633.6 54.7,639.0 55.2,635.7 55.8,617.6 56.3,636.9 56.8,650.5 57.4,646.2 57.9,640.9 58.5,638.9 59.0,637.8 59.5,640.4 60.1,633.2 60.6,638.8 61.1,645.6 61.7,643.5 62.2,638.2 62.8,630.1 63.3,631.1 63.8,635.5 64.4,633.5 64.9,628.3 65.4,620.4 66.0,632.5 66.5,629.5 67.1,629.1 67.6,638.1 68.1,634.5 68.7,635.0 69.2,638.5 69.7,633.0 70.3,628.6 70.8,629.0 71.4,635.9 71.9,631.1 72.4,620.9 73.0,635.8 73.5,630.5 74.0,624.4 74.6,626.6 75.1,625.2 75.7,626.9 76.2,623.8 76.7,622.9 77.3,632.0 77.8,633.1 78.3,635.3 78.9,637.4 79.4,636.9 80.0,639.6 80.5,627.2 81.0,617.6 81.6,616.3 82.1,622.5 82.6,633.5 83.2,625.1 83.7,634.5 84.3,631.2 84.8,623.1 85.3,636.0 85.9,629.8 86.4,631.4 86.9,636.5 87.5,640.0 88.0,634.6 88.6,635.9 89.1,627.5 89.6,627.9 90.2,642.5 90.7,640.8 91.2,639.9 91.8,645.8 92.3,645.9 92.9,639.8 93.4,643.0 93.9,651.4 94.5,645.4 95.0,639.9 95.5,649.1 96.1,646.7 96.6,631.9 97.2,635.6 97.7,655.5 98.2,656.8 98.8,648.6 99.3,654.7 99.8,651.8 100.4,650.6 100.9,650.6 101.5,669.8 102.0,673.4 102.5,665.6 103.1,654.1 103.6,662.5 104.1,672.7 104.7,662.7 105.2,661.2 105.8,668.8 106.3,671.5 106.8,667.6 107.4,665.2 107.9,672.0 108.4,673.9 109.0,679.0 109.5,684.2 110.1,687.3 110.6,682.7 111.1,685.4 111.7,685.2 112.2,679.6 112.7,681.2 113.3,684.8 113.8,697.8 114.4,691.5 114.9,697.1 115.4,701.3 116.0,699.1 116.5,687.1 117.0,689.3 117.6,701.3 118.1,706.2 118.7,702.4 119.2,702.4 119.7,696.4 120.3,714.6 120.8,720.0 121.3,710.4 121.9,705.9 122.4,703.3 123.0,696.5 123.5,690.4 124.0,703.5 124.6,710.6 125.1,715.9 125.6,705.1 126.2,701.1 126.7,706.1 127.3,701.7 127.8,705.2 128.3,700.0 128.9,707.5 129.4,717.4 129.9,718.1 130.5,722.9 131.0,721.7 131.6,707.7 132.1,698.4 132.6,693.6 133.2,705.2 133.7,711.7 134.2,715.3 134.8,705.7 135.3,709.1 135.9,715.7 136.4,710.6 136.9,714.3 137.5,726.3 138.0,714.7 138.5,714.8 139.1,718.1 139.6,714.3 140.2,699.9 140.7,696.7 141.2,699.8 141.8,717.7 142.3,717.4 142.8,710.7 143.4,721.4 143.9,724.0 144.5,725.1 145.0,705.8 145.5,706.8 146.1,713.0 146.6,716.9 147.1,721.3 147.7,720.3 148.2,715.5 148.8,718.8 149.3,711.2 149.8,719.8 150.4,721.9 150.9,711.7 151.4,716.9 152.0,716.9 152.5,725.2 153.1,734.0 153.6,722.2 154.1,725.6 154.7,716.8 155.2,729.5 155.7,731.4 156.3,717.2 156.8,712.8 157.4,715.9 157.9,720.8 158.4,712.8 159.0,722.1 159.5,719.2 160.0,718.1 160.6,712.8 161.1,705.4 161.7,709.7 162.2,703.1 162.7,703.2 163.3,716.6 163.8,715.1 164.3,708.9 164.9,706.7 165.4,703.9 166.0,711.4 166.5,697.2 167.0,693.7 167.6,700.9 168.1,707.5 168.6,701.2 169.2,700.3 169.7,694.5 170.3,694.9 170.8,692.0 171.3,694.5 171.9,690.0 172.4,708.2 172.9,703.2 173.5,694.1 174.0,699.7 174.6,690.2 175.1,694.8 175.6,688.9 176.2,690.3 176.7,686.3 177.2,681.2 177.8,682.0 178.3,680.2 178.9,668.1 179.4,679.1 179.9,685.4 180.5,674.8 181.0,671.4 181.5,667.6 182.1,666.9 182.6,679.3 183.2,670.2 183.7,668.0 184.2,674.4 184.8,679.5 185.3,695.1 185.8,680.0 186.4,665.3 186.9,680.6 187.5,675.9 188.0,667.9 188.5,663.2 189.1,661.5 189.6,678.3 190.1,670.5 190.7,665.3 191.2,675.1 191.8,666.9 192.3,653.1 192.8,654.3 193.4,664.4 193.9,681.1 194.4,669.2 195.0,662.8 195.5,665.7 196.1,659.9 196.6,644.3 197.1,660.6 197.7,667.6 198.2,660.8 198.7,661.0 199.3,660.3 199.8,656.7 200.4,651.4 200.9,655.4 201.4,663.3 202.0,657.1 202.5,651.9 203.0,653.0 203.6,643.7 204.1,645.5 204.7,654.8 205.2,646.5 205.7,634.3 206.3,636.5 206.8,645.2 207.3,643.2 207.9,651.5 208.4,654.3 209.0,642.0 209.5,639.4 210.0,638.2 210.6,640.1 211.1,639.6 211.6,642.5 212.2,636.8 212.7,634.3 213.3,637.8 213.8,637.4 214.3,650.2 214.9,643.8 215.4,627.1 215.9,623.6 216.5,633.2 217.0,640.0 217.6,645.6 218.1,636.5 218.6,634.5 219.2,644.1 219.7,633.9 220.2,630.1 220.8,631.9 221.3,638.2 221.9,632.3 222.4,636.8 222.9,622.5 223.5,627.6 224.0,633.3 224.5,619.0 225.1,618.2 225.6,624.4 226.2,613.6 226.7,626.9 227.2,622.5 227.8,621.0 228.3,637.0 228.8,624.1 229.4,625.9 229.9,629.2 230.5,633.7 231.0,628.7 231.5,635.2 232.1,635.2 232.6,632.3 233.1,631.3 233.7,619.1 234.2,632.0 234.8,632.5 235.3,628.7 235.8,625.0 236.4,619.7 236.9,620.1 237.4,627.3 238.0,628.9 238.5,625.1 239.1,619.4 239.6,620.5 240.1,630.5 240.7,635.4 241.2,613.2 241.7,615.3 242.3,621.5 242.8,623.5 243.4,629.6 243.9,632.8 244.4,629.0 245.0,627.6 245.5,631.1 246.0,635.0 246.6,627.5 247.1,621.4 247.7,625.2 248.2,626.2 248.7,634.8 249.3,625.6 249.8,623.5 250.3,631.0 250.9,632.4 251.4,621.5 252.0,623.7 252.5,619.0 253.0,621.3 253.6,618.0 254.1,624.7 254.6,631.6 255.2,625.0 255.7,623.0 256.3,619.3 256.8,625.0 257.3,624.8 257.9,616.4 258.4,612.8 258.9,613.9 259.5,612.9 260.0,614.9 260.6,613.1 261.1,612.3 261.6,615.8 262.2,618.9 262.7,616.0 263.2,605.9 263.8,618.2 264.3,623.9 264.9,624.4 265.4,621.8 265.9,621.7 266.5,631.5 267.0,635.7 267.5,625.7 268.1,631.1 268.6,622.2 269.2,618.1 269.7,611.1 270.2,608.4 270.8,617.4 271.3,626.2 271.8,630.7 272.4,627.6 272.9,624.8 273.5,633.7 274.0,624.3 274.5,621.4 275.1,619.9 275.6,625.0 276.1,625.1 276.7,628.9 277.2,629.9 277.8,634.2 278.3,621.8 278.8,612.0 279.4,618.3 279.9,621.4 280.4,625.5 281.0,615.4 281.5,622.5 282.1,616.7 282.6,620.2 283.1,625.1 283.7,616.2 284.2,619.7 284.7,620.2 285.3,619.2 285.8,622.3 286.4,623.8 286.9,620.4 287.4,624.0 288.0,623.8 288.5,629.2 289.0,634.3 289.6,630.1 290.1,626.7 290.7,621.4 291.2,617.9 291.7,631.7 292.3,628.9 292.8,639.5 293.3,635.3 293.9,632.8 294.4,641.9 295.0,638.3 295.5,624.3 296.0,621.2 296.6,623.2 297.1,623.2 297.6,609.5 298.2,621.0 298.7,625.3 299.3,612.1 299.8,616.2 300.3,621.3 300.9,614.3 301.4,617.4 301.9,616.6 302.5,620.7 303.0,626.7 303.6,618.1 304.1,622.4 304.6,631.0 305.2,628.3 305.7,618.2 306.2,621.7 306.8,618.6 307.3,613.7 307.9,618.1 308.4,626.1 308.9,615.1 309.5,610.7 310.0,610.3 310.5,608.0 311.1,614.0 311.6,611.5 312.2,607.6 312.7,614.0 313.2,603.4 313.8,601.8 314.3,606.9 314.8,604.6 315.4,613.2 315.9,623.5 316.5,615.1 317.0,616.6 317.5,617.2 318.1,616.1 318.6,609.8 319.1,614.8 319.7,622.2 320.2,616.5 320.8,615.6 321.3,624.1 321.8,624.5 322.4,624.0 322.9,623.8 323.4,617.0 324.0,610.0 324.5,605.1 325.1,609.2 325.6,612.0 326.1,611.8 326.7,613.2 327.2,621.5 327.7,617.2 328.3,617.8 328.8,621.6 329.4,624.8 329.9,626.1 330.4,627.0 331.0,630.5 331.5,622.1 332.0,622.7 332.6,622.7 333.1,620.8 333.7,620.7 334.2,628.1 334.7,629.6 335.3,639.3 335.8,645.0 336.3,638.4 336.9,621.0 337.4,632.5 338.0,620.9 338.5,612.9 339.0,619.2 339.6,607.8 340.1,603.8 340.6,606.2 341.2,600.8 341.7,611.4 342.3,620.8 342.8,616.9 343.3,623.0 343.9,630.7 344.4,627.1 344.9,609.6 345.5,621.6 346.0,623.9 346.6,625.7 347.1,621.9 347.6,623.1 348.2,625.9 348.7,631.5 349.2,632.7 349.8,626.8 350.3,616.2 350.9,605.0 351.4,608.0 351.9,607.8 352.5,616.8 353.0,625.0 353.5,631.8 354.1,628.4 354.6,636.4 355.2,624.7 355.7,611.4 356.2,615.4 356.8,615.1 357.3,625.2 357.8,632.5 358.4,628.1 358.9,623.2 359.5,611.0 360.0,607.1 360.5,621.7 361.1,622.8 361.6,620.9 362.1,623.4 362.7,627.7 363.2,621.0 363.8,618.1 364.3,620.9 364.8,629.5 365.4,627.0 365.9,629.9 366.4,616.9 367.0,622.0 367.5,619.5 368.1,619.3 368.6,621.4 369.1,626.4 369.7,626.9 370.2,609.0 370.7,613.8 371.3,614.2 371.8,607.1 372.4,617.8 372.9,618.4 373.4,619.0 374.0,613.5 374.5,616.1 375.0,619.1 375.6,621.9 376.1,617.9 376.7,616.7 377.2,633.1 377.7,627.0 378.3,626.2 378.8,629.0 379.3,635.4 379.9,623.4 380.4,627.9 381.0,626.7 381.5,629.0 382.0,634.7 382.6,630.7 383.1,635.7 383.6,630.8 384.2,624.5 384.7,621.2 385.3,620.7 385.8,618.5 386.3,607.5 386.9,617.7 387.4,630.4 387.9,629.7 388.5,628.6 389.0,626.6 389.6,629.0 390.1,627.1 390.6,613.7 391.2,619.6 391.7,623.6 392.2,623.0 392.8,619.7 393.3,610.8 393.9,613.1 394.4,617.2 394.9,637.6 395.5,621.5 396.0,610.0 396.5,606.2 397.1,619.6 397.6,629.8 398.2,619.5 398.7,624.8 399.2,632.2 399.8,624.0 400.3,611.4 400.8,608.9 401.4,614.8 401.9,621.2 402.5,607.3 403.0,623.0 403.5,623.9 404.1,626.5 404.6,612.8 405.1,613.7 405.7,613.9 406.2,618.7 406.8,620.4 407.3,622.0 407.8,629.5 408.4,614.2 408.9,612.1 409.4,620.0 410.0,619.6 410.5,615.4 411.1,609.0 411.6,615.0 412.1,620.3 412.7,626.0 413.2,631.7 413.7,626.7 414.3,621.9 414.8,622.8 415.4,620.8 415.9,617.2 416.4,618.9 417.0,620.1 417.5,618.8 418.0,621.4 418.6,622.2 419.1,622.0 419.7,629.2 420.2,616.6 420.7,623.5 421.3,614.7 421.8,614.6 422.3,610.9 422.9,617.9 423.4,623.1 424.0,613.6 424.5,616.2 425.0,618.1 425.6,617.1 426.1,611.7 426.6,612.5 427.2,619.5 427.7,629.8 428.3,624.5 428.8,617.0 429.3,608.0 429.9,615.4 430.4,619.1 430.9,614.0 431.5,620.2 432.0,621.5 432.6,622.6 433.1,628.5 433.6,616.1 434.2,616.4 434.7,623.1 435.2,627.7 435.8,619.0 436.3,612.9 436.9,624.7 437.4,628.1 437.9,622.3 438.5,633.3 439.0,637.2 439.5,627.1 440.1,625.2 440.6,623.4 441.2,623.3 441.7,619.2 442.2,622.1 442.8,625.4 443.3,623.5 443.8,615.7 444.4,611.5 444.9,611.0 445.5,618.2 446.0,639.8 446.5,630.5 447.1,621.8 447.6,620.5 448.1,626.6 448.7,612.3 449.2,616.4 449.8,623.2 450.3,621.0 450.8,624.2 451.4,626.0 451.9,620.3 452.4,625.8 453.0,631.8 453.5,627.1 454.1,623.5 454.6,624.4 455.1,614.3 455.7,620.7 456.2,607.9 456.7,612.2 457.3,624.0 457.8,618.8 458.4,612.8 458.9,621.3 459.4,627.7 460.0,618.3 460.5,610.4 461.0,626.7 461.6,620.6 462.1,621.0 462.7,622.7 463.2,623.9 463.7,621.0 464.3,612.5 464.8,615.2 465.3,621.9 465.9,612.8 466.4,623.9 467.0,616.9 467.5,615.4 468.0,611.1 468.6,613.9 469.1,612.6 469.6,616.7 470.2,612.9 470.7,612.0 471.3,605.4 471.8,616.9 472.3,610.2 472.9,612.3 473.4,616.9 473.9,621.3 474.5,620.1 475.0,631.6 475.6,631.8 476.1,622.9 476.6,629.8 477.2,617.4 477.7,622.5 478.2,621.8 478.8,621.0 479.3,619.7 479.9,623.2 480.4,624.1 480.9,620.5 481.5,612.5 482.0,610.1 482.5,610.9 483.1,617.6 483.6,625.1 484.2,631.4 484.7,618.2 485.2,614.5 485.8,619.2 486.3,612.0 486.8,608.1 487.4,612.6 487.9,608.8 488.5,614.8 489.0,626.9 489.5,622.7 490.1,619.8 490.6,617.0 491.1,624.7 491.7,625.8 492.2,627.5 492.8,622.7 493.3,619.3 493.8,613.8 494.4,614.4 494.9,618.4 495.4,618.9 496.0,619.5 496.5,617.5 497.1,615.1 497.6,634.9 498.1,626.1 498.7,618.0 499.2,615.2 499.7,625.1 500.3,618.3 500.8,614.5 501.4,624.1 501.9,633.0 502.4,627.1 503.0,627.4 503.5,619.8 504.0,622.4 504.6,610.7 505.1,618.2 505.7,626.1 506.2,626.6 506.7,627.5 507.3,617.3 507.8,610.4 508.3,617.3 508.9,615.3 509.4,622.6 510.0,613.7 510.5,604.1" stroke="#00d4ff"/>
<polyline points="54.2,628.1 54.7,636.0 55.2,628.5 55.8,629.6 56.3,640.6 56.8,634.9 57.4,637.9 57.9,642.9 58.5,648.5 59.0,645.1 59.5,633.6 60.1,634.5 60.6,633.9 61.1,640.3 61.7,638.1 62.2,639.2 62.8,647.8 63.3,647.5 63.8,635.0 64.4,634.8 64.9,640.2 65.4,635.4 66.0,627.8 66.5,624.1 67.1,637.3 67.6,630.1 68.1,621.5 68.7,629.6 69.2,630.4 69.7,647.5 70.3,631.9 70.8,638.4 71.4,648.5 71.9,634.3 72.4,627.5 73.0,625.0 73.5,625.6 74.0,633.4 74.6,638.8 75.1,637.1 75.7,633.0 76.2,630.6 76.7,634.1 77.3,630.4 77.8,624.8 78.3,623.7 78.9,612.6 79.4,615.6 80.0,635.6 80.5,638.5 81.0,642.4 81.6,640.5 82.1,632.7 82.6,640.3 83.2,642.3 83.7,636.3 84.3,630.6 84.8,636.3 85.3,636.3 85.9,629.2 86.4,630.0 86.9,630.0 87.5,630.1 88.0,639.7 88.6,636.6 89.1,637.4 89.6,628.6 90.2,629.9 90.7,637.6 91.2,628.9 91.8,636.2 92.3,626.0 92.9,628.9 93.4,636.6 93.9,638.1 94.5,633.1 95.0,631.6 95.5,634.2 96.1,631.2 96.6,640.3 97.2,635.9 97.7,638.0 98.2,647.8 98.8,641.2 99.3,650.9 99.8,659.4 100.4,650.3 100.9,644.4 101.5,640.0 102.0,645.1 102.5,636.6 103.1,636.0 103.6,640.0 104.1,643.0 104.7,652.6 105.2,660.3 105.8,655.9 106.3,655.0 106.8,661.2 107.4,668.5 107.9,674.9 108.4,664.6 109.0,667.0 109.5,677.2 110.1,671.9 110.6,668.9 111.1,673.4 111.7,670.5 112.2,673.8 112.7,686.8 113.3,682.7 113.8,676.2 114.4,672.5 114.9,675.1 115.4,693.5 116.0,687.3 116.5,680.2 117.0,676.4 117.6,677.9 118.1,693.5 118.7,695.9 119.2,697.1 119.7,690.8 120.3,698.3 120.8,687.6 121.3,687.1 121.9,695.6 122.4,711.7 123.0,705.3 123.5,698.2 124.0,708.2 124.6,704.3 125.1,700.4 125.6,695.6 126.2,698.9 126.7,702.2 127.3,707.1 127.8,706.6 128.3,706.2 128.9,702.9 129.4,705.7 129.9,704.3 130.5,715.4 131.0,704.2 131.6,706.7 132.1,702.6 132.6,706.0 133.2,701.9 133.7,700.0 134.2,710.9 134.8,710.9 135.3,711.3 135.9,712.7 136.4,721.7 136.9,715.9 137.5,715.3 138.0,718.1 138.5,717.4 139.1,720.3 139.6,705.2 140.2,704.0 140.7,700.5 141.2,715.8 141.8,719.9 142.3,715.1 142.8,723.2 143.4,717.3 143.9,721.1 144.5,720.8 145.0,718.1 145.5,716.6 146.1,707.8 146.6,715.4 147.1,724.9 147.7,716.2 148.2,723.9 148.8,719.8 149.3,724.7 149.8,720.5 150.4,709.3 150.9,717.9 151.4,721.6 152.0,721.5 152.5,717.8 153.1,711.1 153.6,725.0 154.1,726.2 154.7,717.7 155.2,725.8 155.7,718.6 156.3,708.7 156.8,714.1 157.4,719.4 157.9,722.1 158.4,723.5 159.0,721.0 159.5,714.5 160.0,707.0 160.6,709.2 161.1,719.0 161.7,719.3 162.2,713.1 162.7,722.6 163.3,715.7 163.8,712.1 164.3,715.0 164.9,712.2 165.4,706.1 166.0,715.0 166.5,712.9 167.0,708.7 167.6,705.5 168.1,708.9 168.6,697.3 169.2,701.4 169.7,703.0 170.3,703.6 170.8,705.9 171.3,704.7 171.9,693.0 172.4,695.6 172.9,696.7 173.5,692.3 174.0,698.4 174.6,692.9 175.1,695.4 175.6,698.7 176.2,692.6 176.7,699.7 177.2,691.1 177.8,693.9 178.3,685.2 178.9,676.9 179.4,680.8 179.9,687.1 180.5,684.8 181.0,686.3 181.5,690.8 182.1,688.7 182.6,679.4 183.2,677.0 183.7,686.9 184.2,678.3 184.8,671.9 185.3,674.4 185.8,677.8 186.4,669.5 186.9,676.7 187.5,666.6 188.0,663.0 188.5,680.3 189.1,671.3 189.6,667.1 190.1,668.6 190.7,673.7 191.2,673.7 191.8,677.3 192.3,669.0 192.8,666.2 193.4,673.6 193.9,676.3 194.4,672.8 195.0,668.6 195.5,667.0 196.1,667.1 196.6,667.7 197.1,677.3 197.7,682.1 198.2,661.3 198.7,654.7 199.3,669.3 199.8,667.2 200.4,658.9 200.9,653.6 201.4,653.1 202.0,651.2 202.5,657.0 203.0,655.2 203.6,654.6 204.1,656.0 204.7,646.7 205.2,646.0 205.7,645.8 206.3,650.8 206.8,646.7 207.3,654.6 207.9,652.9 208.4,666.0 209.0,657.3 209.5,645.3 210.0,648.6 210.6,649.1 211.1,654.2 211.6,638.5 212.2,640.1 212.7,644.4 213.3,642.7 213.8,641.0 214.3,636.4 214.9,644.8 215.4,654.7 215.9,646.5 216.5,634.8 217.0,636.9 217.6,641.0 218.1,635.8 218.6,635.6 219.2,636.1 219.7,647.5 220.2,644.0 220.8,634.5 221.3,636.6 221.9,631.9 222.4,624.3 222.9,634.4 223.5,634.8 224.0,637.7 224.5,637.3 225.1,635.4 225.6,643.7 226.2,644.8 226.7,627.2 227.2,629.4 227.8,625.8 228.3,630.0 228.8,630.3 229.4,626.6 229.9,628.1 230.5,635.7 231.0,626.5 231.5,633.6 232.1,625.4 232.6,612.5 233.1,621.8 233.7,619.4 234.2,628.3 234.8,626.6 235.3,627.7 235.8,627.7 236.4,634.2 236.9,633.9 237.4,628.6 238.0,636.9 238.5,632.9 239.1,624.2 239.6,629.7 240.1,633.2 240.7,632.7 241.2,626.2 241.7,627.1 242.3,626.2 242.8,625.4 243.4,617.8 243.9,631.5 244.4,641.0 245.0,630.0 245.5,626.2 246.0,627.0 246.6,632.3 247.1,619.0 247.7,621.0 248.2,624.5 248.7,630.5 249.3,621.1 249.8,619.4 250.3,615.0 250.9,625.7 251.4,632.2 252.0,627.4 252.5,630.3 253.0,626.6 253.6,632.6 254.1,629.3 254.6,627.9 255.2,627.0 255.7,629.4 256.3,630.0 256.8,625.9 257.3,626.5 257.9,623.4 258.4,628.2 258.9,638.1 259.5,626.1 260.0,616.1 260.6,620.6 261.1,620.8 261.6,622.3 262.2,628.9 262.7,631.5 263.2,618.7 263.8,614.3 264.3,617.0 264.9,618.7 265.4,620.0 265.9,622.4 266.5,622.0 267.0,623.1 267.5,624.0 268.1,631.2 268.6,629.7 269.2,623.3 269.7,629.8 270.2,639.3 270.8,629.4 271.3,632.6 271.8,611.5 272.4,611.9 272.9,615.8 273.5,624.9 274.0,628.7 274.5,624.2 275.1,623.6 275.6,627.8 276.1,623.6 276.7,620.0 277.2,622.9 277.8,635.2 278.3,641.4 278.8,631.0 279.4,629.6 279.9,621.3 280.4,611.5 281.0,611.1 281.5,617.8 282.1,614.4 282.6,612.8 283.1,621.6 283.7,621.6 284.2,618.5 284.7,622.8 285.3,626.7 285.8,627.6 286.4,624.7 286.9,625.9 287.4,620.7 288.0,623.3 288.5,615.1 289.0,618.0 289.6,630.0 290.1,622.2 290.7,625.3 291.2,618.5 291.7,622.3 292.3,626.1 292.8,624.5 293.3,629.4 293.9,625.6 294.4,624.5 295.0,626.5 295.5,625.9 296.0,630.9 296.6,626.1 297.1,631.5 297.6,623.2 298.2,620.8 298.7,621.2 299.3,622.7 299.8,607.6 300.3,621.0 300.9,624.8 301.4,626.1 301.9,617.0 302.5,622.8 303.0,619.7 303.6,627.0 304.1,623.2 304.6,623.4 305.2,618.5 305.7,625.2 306.2,629.1 306.8,625.4 307.3,633.6 307.9,632.3 308.4,625.4 308.9,634.1 309.5,623.2 310.0,626.2 310.5,628.9 311.1,622.1 311.6,620.3 312.2,626.8 312.7,625.0 313.2,618.6 313.8,618.2 314.3,623.4 314.8,628.3 315.4,629.0 315.9,624.4 316.5,615.7 317.0,614.3 317.5,614.2 318.1,610.7 318.6,619.7 319.1,623.5 319.7,621.1 320.2,614.1 320.8,631.6 321.3,624.0 321.8,620.6 322.4,619.8 322.9,609.0 323.4,613.5 324.0,620.3 324.5,628.8 325.1,623.9 325.6,625.9 326.1,623.8 326.7,622.5 327.2,624.1 327.7,616.3 328.3,609.0 328.8,611.8 329.4,620.5 329.9,630.1 330.4,615.7 331.0,613.7 331.5,622.3 332.0,624.6 332.6,620.7 333.1,625.2 333.7,620.2 334.2,628.2 334.7,627.9 335.3,623.5 335.8,628.0 336.3,620.3 336.9,617.8 337.4,625.3 338.0,617.9 338.5,622.9 339.0,619.8 339.6,621.6 340.1,626.4 340.6,629.6 341.2,635.2 341.7,630.9 342.3,626.0 342.8,612.3 343.3,615.8 343.9,627.9 344.4,619.9 344.9,621.6 345.5,625.4 346.0,621.3 346.6,620.4 347.1,627.8 347.6,627.4 348.2,625.9 348.7,630.0 349.2,624.7 349.8,625.0 350.3,628.9 350.9,628.9 351.4,621.4 351.9,617.0 352.5,620.9 353.0,626.2 353.5,619.3 354.1,620.0 354.6,617.9 355.2,617.4 355.7,628.3 356.2,628.2 356.8,630.7 357.3,629.1 357.8,614.0 358.4,619.6 358.9,633.0 359.5,624.2 360.0,622.7 360.5,614.2 361.1,617.6 361.6,620.2 362.1,619.3 362.7,619.5 363.2,623.2 363.8,626.4 364.3,626.1 364.8,624.9 365.4,631.8 365.9,627.2 366.4,626.1 367.0,625.9 367.5,621.8 368.1,630.5 368.6,628.9 369.1,628.6 369.7,622.8 370.2,625.8 370.7,623.2 371.3,622.5 371.8,629.7 372.4,621.5 372.9,624.4 373.4,623.1 374.0,620.6 374.5,615.6 375.0,613.6 375.6,610.1 376.1,618.7 376.7,624.7 377.2,624.3 377.7,616.9 378.3,612.7 378.8,621.5 379.3,628.7 379.9,625.7 380.4,625.0 381.0,627.2 381.5,634.3 382.0,642.4 382.6,630.3 383.1,618.5 383.6,624.1 384.2,635.8 384.7,628.4 385.3,629.9 385.8,612.1 386.3,618.6 386.9,626.3 387.4,618.8 387.9,623.3 388.5,618.7 389.0,622.1 389.6,627.8 390.1,622.3 390.6,628.2 391.2,617.7 391.7,623.1 392.2,632.4 392.8,633.1 393.3,613.7 393.9,612.9 394.4,624.1 394.9,612.6 395.5,617.4 396.0,621.9 396.5,622.5 397.1,621.8 397.6,615.0 398.2,624.0 398.7,632.9 399.2,615.1 399.8,619.6 400.3,631.7 400.8,630.4 401.4,630.3 401.9,624.4 402.5,620.9 403.0,622.7 403.5,628.5 404.1,629.1 404.6,621.7 405.1,622.0 405.7,614.3 406.2,626.6 406.8,622.5 407.3,625.2 407.8,627.2 408.4,617.1 408.9,622.4 409.4,629.2 410.0,625.2 410.5,619.3 411.1,626.0 411.6,614.1 412.1,615.1 412.7,619.1 413.2,610.5 413.7,608.0 414.3,615.4 414.8,617.5 415.4,609.0 415.9,612.4 416.4,626.6 417.0,626.6 417.5,626.6 418.0,629.9 418.6,633.2 419.1,621.7 419.7,622.7 420.2,621.5 420.7,616.3 421.3,625.0 421.8,624.1 422.3,622.3 422.9,625.5 423.4,623.6 424.0,619.3 424.5,620.8 425.0,617.1 425.6,625.9 426.1,625.5 426.6,631.5 427.2,627.0 427.7,625.5 428.3,615.3 428.8,616.5 429.3,617.3 429.9,610.8 430.4,613.0 430.9,620.9 431.5,632.3 432.0,637.3 432.6,630.5 433.1,630.0 433.6,630.4 434.2,629.2 434.7,630.5 435.2,616.4 435.8,625.9 436.3,624.6 436.9,619.2 437.4,625.9 437.9,613.1 438.5,610.3 439.0,618.4 439.5,624.1 440.1,624.2 440.6,627.5 441.2,613.1 441.7,618.3 442.2,626.1 442.8,627.0 443.3,618.2 443.8,615.7 444.4,630.8 444.9,633.1 445.5,635.7 446.0,623.6 446.5,619.8 447.1,611.6 447.6,623.2 448.1,629.3 448.7,629.2 449.2,624.0 449.8,632.7 450.3,622.5 450.8,622.5 451.4,627.8 451.9,628.0 452.4,615.7 453.0,611.7 453.5,623.6 454.1,620.2 454.6,615.8 455.1,627.9 455.7,630.5 456.2,633.5 456.7,627.3 457.3,624.4 457.8,625.4 458.4,627.9 458.9,632.2 459.4,631.3 460.0,626.6 460.5,618.7 461.0,624.5 461.6,626.7 462.1,619.1 462.7,620.3 463.2,629.0 463.7,628.9 464.3,621.7 464.8,623.0 465.3,628.0 465.9,622.4 466.4,619.3 467.0,614.8 467.5,621.8 468.0,614.8 468.6,617.2 469.1,623.7 469.6,613.9 470.2,615.1 470.7,623.9 471.3,612.2 471.8,626.1 472.3,629.1 472.9,624.1 473.4,617.2 473.9,617.9 474.5,620.3 475.0,614.6 475.6,617.6 476.1,611.9 476.6,606.6 477.2,624.9 477.7,642.5 478.2,634.8 478.8,633.4 479.3,626.9 479.9,626.5 480.4,633.5 480.9,632.6 481.5,625.9 482.0,626.8 482.5,635.1 483.1,617.9 483.6,617.7 484.2,618.3 484.7,618.1 485.2,624.0 485.8,618.5 486.3,610.8 486.8,610.8 487.4,616.7 487.9,623.9 488.5,625.8 489.0,615.2 489.5,618.3 490.1,628.1 490.6,638.3 491.1,634.8 491.7,634.6 492.2,618.3 492.8,621.2 493.3,627.6 493.8,621.8 494.4,605.8 494.9,614.3 495.4,630.9 496.0,629.5 496.5,635.3 497.1,637.1 497.6,622.6 498.1,607.2 498.7,611.7 499.2,623.7 499.7,628.4 500.3,624.6 500.8,622.6 501.4,636.9 501.9,636.6 502.4,615.4 503.0,616.6 503.5,612.4 504.0,616.7 504.6,614.3 505.1,623.7 505.7,618.4 506.2,611.0 506.7,615.1 507.3,623.5 507.8,620.5 508.3,629.9 508.9,634.5 509.4,622.4 510.0,614.8 510.5,620.1" stroke="#4effa9"/>
<polyline points="54.2,646.8 54.7,639.7 55.2,641.8 55.8,640.1 56.3,638.0 56.8,641.8 57.4,635.1 57.9,634.5 58.5,632.7 59.0,624.0 59.5,615.0 60.1,624.5 60.6,628.2 61.1,632.5 61.7,636.4 62.2,633.9 62.8,630.4 63.3,633.3 63.8,631.8 64.4,630.9 64.9,623.8 65.4,633.8 66.0,629.8 66.5,629.9 67.1,634.7 67.6,642.6 68.1,644.8 68.7,641.8 69.2,640.3 69.7,643.0 70.3,639.8 70.8,630.6 71.4,626.3 71.9,629.8 72.4,630.3 73.0,626.7 73.5,616.4 74.0,621.2 74.6,624.3 75.1,620.0 75.7,615.8 76.2,621.7 76.7,631.5 77.3,629.6 77.8,630.1 78.3,632.2 78.9,636.2 79.4,636.2 80.0,638.1 80.5,634.6 81.0,635.9 81.6,641.4 82.1,641.5 82.6,634.6 83.2,627.5 83.7,625.6 84.3,629.1 84.8,637.8 85.3,630.1 85.9,628.2 86.4,628.4 86.9,631.3 87.5,629.9 88.0,626.8 88.6,615.6 89.1,619.6 89.6,623.4 90.2,622.4 90.7,620.9 91.2,619.0 91.8,619.3 92.3,616.5 92.9,611.9 93.4,612.1 93.9,613.5 94.5,611.2 95.0,614.6 95.5,619.0 96.1,619.5 96.6,613.0 97.2,606.6 97.7,600.9 98.2,596.4 98.8,598.6 99.3,595.8 99.8,586.2 100.4,581.8 100.9,584.6 101.5,580.9 102.0,576.8 102.5,580.4 103.1,585.2 103.6,590.3 104.1,579.9 104.7,579.0 105.2,580.8 105.8,582.7 106.3,583.5 106.8,578.2 107.4,574.2 107.9,569.6 108.4,571.9 109.0,562.7 109.5,562.2 110.1,560.2 110.6,566.4 111.1,564.3 111.7,562.8 112.2,569.1 112.7,575.6 113.3,571.6 113.8,567.9 114.4,572.7 114.9,571.5 115.4,565.2 116.0,565.9 116.5,562.4 117.0,568.4 117.6,571.5 118.1,565.7 118.7,557.8 119.2,563.0 119.7,561.3 120.3,560.8 120.8,563.6 121.3,558.7 121.9,560.8 122.4,563.3 123.0,571.3 123.5,574.0 124.0,574.2 124.6,563.8 125.1,558.6 125.6,552.6 126.2,549.3 126.7,554.7 127.3,555.8 127.8,552.4 128.3,550.0 128.9,556.1 129.4,553.2 129.9,554.5 130.5,554.0 131.0,550.8 131.6,556.0 132.1,557.4 132.6,553.1 133.2,555.7 133.7,558.5 134.2,558.6 134.8,557.4 135.3,559.4 135.9,556.6 136.4,556.1 136.9,552.9 137.5,553.2 138.0,556.0 138.5,560.3 139.1,561.3 139.6,561.1 140.2,552.4 140.7,560.3 141.2,559.8 141.8,558.8 142.3,568.0 142.8,568.7 143.4,567.8 143.9,570.6 144.5,572.4 145.0,569.2 145.5,563.4 146.1,565.3 146.6,568.7 147.1,570.3 147.7,573.1 148.2,564.4 148.8,563.0 149.3,566.9 149.8,564.2 150.4,566.2 150.9,570.1 151.4,573.8 152.0,574.8 152.5,575.2 153.1,571.2 153.6,570.9 154.1,572.2 154.7,574.7 155.2,574.4 155.7,570.2 156.3,581.3 156.8,576.3 157.4,578.7 157.9,582.0 158.4,583.8 159.0,582.8 159.5,584.6 160.0,583.9 160.6,580.5 161.1,582.9 161.7,574.8 162.2,574.7 162.7,587.6 163.3,580.9 163.8,570.8 164.3,569.3 164.9,571.0 165.4,572.4 166.0,574.0 166.5,575.3 167.0,575.6 167.6,582.0 168.1,583.8 168.6,591.3 169.2,589.1 169.7,589.0 170.3,578.9 170.8,574.0 171.3,580.7 171.9,587.3 172.4,583.9 172.9,582.1 173.5,581.2 174.0,579.2 174.6,583.7 175.1,594.5 175.6,585.2 176.2,588.5 176.7,588.9 177.2,583.9 177.8,590.7 178.3,598.1 178.9,599.5 179.4,594.8 179.9,590.1 180.5,587.5 181.0,591.3 181.5,589.3 182.1,581.3 182.6,583.8 183.2,579.5 183.7,583.2 184.2,586.6 184.8,589.8 185.3,590.7 185.8,594.2 186.4,595.4 186.9,593.9 187.5,594.5 188.0,592.2 188.5,593.4 189.1,595.9 189.6,596.8 190.1,595.4 190.7,589.6 191.2,594.6 191.8,598.1 192.3,597.2 192.8,595.4 193.4,599.5 193.9,602.2 194.4,603.9 195.0,603.6 195.5,603.7 196.1,606.7 196.6,615.4 197.1,618.1 197.7,620.8 198.2,608.5 198.7,602.2 199.3,599.8 199.8,600.6 200.4,597.5 200.9,600.5 201.4,603.5 202.0,608.6 202.5,607.3 203.0,604.4 203.6,597.6 204.1,594.9 204.7,600.7 205.2,598.7 205.7,597.9 206.3,601.5 206.8,604.5 207.3,603.1 207.9,605.8 208.4,605.4 209.0,607.7 209.5,611.3 210.0,613.5 210.6,613.7 211.1,616.7 211.6,612.7 212.2,617.6 212.7,612.1 213.3,609.7 213.8,614.4 214.3,616.7 214.9,611.0 215.4,613.3 215.9,610.1 216.5,610.3 217.0,613.4 217.6,612.4 218.1,607.4 218.6,607.3 219.2,609.1 219.7,603.9 220.2,600.9 220.8,601.9 221.3,603.3 221.9,605.5 222.4,607.6 222.9,612.0 223.5,613.1 224.0,606.4 224.5,610.3 225.1,610.8 225.6,615.0 226.2,611.6 226.7,610.7 227.2,602.3 227.8,615.0 228.3,618.4 228.8,612.6 229.4,614.1 229.9,624.4 230.5,618.4 231.0,615.7 231.5,620.6 232.1,615.9 232.6,618.6 233.1,620.7 233.7,619.0 234.2,619.6 234.8,619.3 235.3,608.4 235.8,614.4 236.4,615.9 236.9,610.9 237.4,611.7 238.0,609.6 238.5,614.8 239.1,615.9 239.6,618.1 240.1,619.8 240.7,621.4 241.2,618.9 241.7,612.6 242.3,617.4 242.8,617.2 243.4,614.4 243.9,610.6 244.4,609.9 245.0,610.5 245.5,617.5 246.0,615.0 246.6,616.4 247.1,617.9 247.7,619.2 248.2,625.1 248.7,618.6 249.3,617.5 249.8,620.6 250.3,614.0 250.9,607.4 251.4,612.2 252.0,612.8 252.5,618.4 253.0,625.0 253.6,628.6 254.1,627.0 254.6,620.7 255.2,620.9 255.7,623.5 256.3,618.2 256.8,620.7 257.3,623.1 257.9,621.1 258.4,625.5 258.9,625.6 259.5,617.0 260.0,621.9 260.6,616.4 261.1,619.1 261.6,614.7 262.2,613.8 262.7,616.9 263.2,622.6 263.8,617.7 264.3,617.1 264.9,619.3 265.4,615.0 265.9,610.3 266.5,613.3 267.0,611.8 267.5,614.9 268.1,611.2 268.6,608.5 269.2,604.3 269.7,609.9 270.2,612.6 270.8,611.1 271.3,615.8 271.8,610.2 272.4,613.0 272.9,612.6 273.5,607.3 274.0,608.4 274.5,608.1 275.1,615.9 275.6,612.8 276.1,613.6 276.7,614.6 277.2,617.5 277.8,609.1 278.3,610.2 278.8,615.7 279.4,618.0 279.9,615.1 280.4,608.8 281.0,613.6 281.5,616.0 282.1,613.8 282.6,613.8 283.1,611.4 283.7,607.8 284.2,606.8 284.7,606.4 285.3,612.7 285.8,611.7 286.4,613.3 286.9,613.7 287.4,615.7 288.0,618.8 288.5,618.0 289.0,615.2 289.6,620.7 290.1,622.9 290.7,615.9 291.2,613.1 291.7,616.0 292.3,615.9 292.8,618.1 293.3,615.1 293.9,609.7 294.4,609.9 295.0,612.8 295.5,616.3 296.0,620.1 296.6,614.2 297.1,611.1 297.6,607.5 298.2,604.6 298.7,609.4 299.3,611.8 299.8,618.4 300.3,614.0 300.9,613.9 301.4,613.3 301.9,614.8 302.5,613.9 303.0,611.0 303.6,615.8 304.1,612.5 304.6,611.8 305.2,619.3 305.7,621.5 306.2,616.8 306.8,616.1 307.3,614.5 307.9,615.0 308.4,618.8 308.9,615.0 309.5,612.1 310.0,616.3 310.5,617.9 311.1,619.2 311.6,612.2 312.2,609.8 312.7,619.3 313.2,614.5 313.8,612.9 314.3,617.3 314.8,618.1 315.4,620.2 315.9,619.6 316.5,616.5 317.0,615.6 317.5,617.6 318.1,616.9 318.6,620.4 319.1,623.9 319.7,615.8 320.2,615.5 320.8,619.0 321.3,611.0 321.8,611.5 322.4,610.3 322.9,606.8 323.4,620.1 324.0,619.6 324.5,613.1 325.1,617.5 325.6,621.1 326.1,615.5 326.7,618.9 327.2,624.7 327.7,620.8 328.3,611.7 328.8,608.5 329.4,618.3 329.9,613.9 330.4,615.6 331.0,619.9 331.5,616.6 332.0,618.9 332.6,613.7 333.1,605.6 333.7,607.5 334.2,608.0 334.7,608.7 335.3,608.7 335.8,607.7 336.3,613.5 336.9,611.5 337.4,608.9 338.0,615.0 338.5,615.6 339.0,610.3 339.6,610.6 340.1,619.4 340.6,622.7 341.2,620.5 341.7,623.8 342.3,628.3 342.8,625.3 343.3,624.0 343.9,621.1 344.4,610.0 344.9,611.0 345.5,612.3 346.0,609.3 346.6,603.3 347.1,610.0 347.6,617.5 348.2,616.1 348.7,617.2 349.2,619.6 349.8,617.8 350.3,617.7 350.9,619.3 351.4,619.7 351.9,617.0 352.5,621.7 353.0,615.1 353.5,615.2 354.1,617.4 354.6,623.4 355.2,614.2 355.7,621.6 356.2,618.9 356.8,612.3 357.3,614.2 357.8,615.7 358.4,620.4 358.9,615.0 359.5,610.6 360.0,609.3 360.5,612.1 361.1,611.5 361.6,612.2 362.1,617.2 362.7,617.6 363.2,612.1 363.8,619.6 364.3,616.6 364.8,617.5 365.4,613.7 365.9,616.6 366.4,611.9 367.0,610.5 367.5,612.0 368.1,612.3 368.6,615.8 369.1,614.9 369.7,614.2 370.2,611.0 370.7,615.1 371.3,621.5 371.8,620.9 372.4,621.3 372.9,622.2 373.4,614.4 374.0,613.4 374.5,612.2 375.0,616.0 375.6,614.2 376.1,610.9 376.7,617.1 377.2,613.5 377.7,614.0 378.3,616.7 378.8,617.6 379.3,622.1 379.9,622.0 380.4,628.1 381.0,628.1 381.5,619.7 382.0,624.1 382.6,625.3 383.1,613.8 383.6,617.5 384.2,624.9 384.7,614.1 385.3,609.2 385.8,610.8 386.3,609.7 386.9,615.8 387.4,617.2 387.9,622.0 388.5,618.5 389.0,613.6 389.6,616.4 390.1,620.2 390.6,626.4 391.2,623.1 391.7,623.1 392.2,617.9 392.8,620.6 393.3,619.0 393.9,619.9 394.4,612.7 394.9,619.3 395.5,614.1 396.0,605.2 396.5,611.9 397.1,616.0 397.6,610.4 398.2,606.8 398.7,608.4 399.2,615.8 399.8,611.5 400.3,613.9 400.8,603.1 401.4,607.4 401.9,611.4 402.5,609.5 403.0,612.1 403.5,616.6 404.1,609.9 404.6,615.5 405.1,620.1 405.7,610.4 406.2,608.1 406.8,610.4 407.3,614.6 407.8,618.1 408.4,610.7 408.9,605.6 409.4,607.6 410.0,608.3 410.5,615.5 411.1,612.0 411.6,613.6 412.1,623.3 412.7,625.7 413.2,622.2 413.7,618.2 414.3,616.6 414.8,618.7 415.4,619.3 415.9,619.8 416.4,619.4 417.0,617.7 417.5,617.7 418.0,618.7 418.6,617.5 419.1,617.7 419.7,614.4 420.2,616.1 420.7,611.1 421.3,615.2 421.8,616.6 422.3,619.5 422.9,618.2 423.4,615.9 424.0,616.6 424.5,619.9 425.0,621.5 425.6,617.3 426.1,614.7 426.6,611.7 427.2,609.3 427.7,615.5 428.3,621.5 428.8,618.4 429.3,623.5 429.9,622.1 430.4,614.8 430.9,616.3 431.5,621.5 432.0,621.8 432.6,620.6 433.1,623.1 433.6,615.9 434.2,613.6 434.7,607.9 435.2,614.1 435.8,610.8 436.3,614.2 436.9,612.1 437.4,617.1 437.9,614.1 438.5,617.1 439.0,618.3 439.5,614.7 440.1,610.9 440.6,609.0 441.2,605.7 441.7,611.4 442.2,624.0 442.8,621.4 443.3,624.2 443.8,619.1 444.4,615.8 444.9,622.1 445.5,622.3 446.0,618.0 446.5,617.3 447.1,612.9 447.6,616.8 448.1,617.0 448.7,614.7 449.2,621.0 449.8,621.0 450.3,621.4 450.8,615.0 451.4,609.1 451.9,607.7 452.4,613.8 453.0,619.3 453.5,622.4 454.1,624.0 454.6,616.8 455.1,611.9 455.7,621.5 456.2,618.6 456.7,606.6 457.3,612.3 457.8,610.0 458.4,613.5 458.9,609.3 459.4,610.3 460.0,614.2 460.5,614.9 461.0,618.3 461.6,617.1 462.1,613.3 462.7,616.6 463.2,623.1 463.7,623.1 464.3,619.1 464.8,616.3 465.3,614.5 465.9,615.0 466.4,611.4 467.0,612.1 467.5,611.5 468.0,611.3 468.6,610.3 469.1,613.3 469.6,605.5 470.2,607.5 470.7,608.4 471.3,607.5 471.8,605.8 472.3,606.6 472.9,608.3 473.4,611.0 473.9,614.6 474.5,609.2 475.0,609.6 475.6,608.3 476.1,603.6 476.6,617.2 477.2,615.3 477.7,611.5 478.2,612.6 478.8,615.1 479.3,624.3 479.9,624.2 480.4,618.8 480.9,618.7 481.5,613.4 482.0,616.8 482.5,617.4 483.1,615.9 483.6,616.5 484.2,615.7 484.7,618.2 485.2,618.7 485.8,621.2 486.3,622.0 486.8,628.0 487.4,627.2 487.9,618.8 488.5,617.7 489.0,620.8 489.5,619.7 490.1,619.3 490.6,612.1 491.1,619.3 491.7,612.0 492.2,616.2 492.8,613.6 493.3,614.5 493.8,614.2 494.4,609.5 494.9,609.8 495.4,614.7 496.0,615.6 496.5,606.3 497.1,608.0 497.6,614.5 498.1,617.2 498.7,615.3 499.2,613.6 499.7,610.6 500.3,615.9 500.8,615.1 501.4,616.3 501.9,610.3 502.4,609.8 503.0,616.9 503.5,616.1 504.0,614.1 504.6,620.1 505.1,621.8 505.7,614.8 506.2,614.7 506.7,615.5 507.3,610.8 507.8,616.1 508.3,623.5 508.9,618.5 509.4,616.2 510.0,610.4 510.5,615.0" stroke="#a9ff4e"/>
<polyline points="54.2,638.5 54.7,641.9 55.2,636.0 55.8,640.2 56.3,637.2 56.8,639.2 57.4,638.9 57.9,639.7 58.5,634.1 59.0,636.7 59.5,637.2 60.1,639.3 60.6,639.4 61.1,639.1 61.7,637.5 62.2,634.1 62.8,634.6 63.3,637.7 63.8,642.6 64.4,641.9 64.9,640.2 65.4,641.5 66.0,639.2 66.5,639.2 67.1,640.7 67.6,639.9 68.1,638.0 68.7,635.6 69.2,633.2 69.7,629.8 70.3,634.3 70.8,635.3 71.4,628.2 71.9,628.2 72.4,625.6 73.0,618.9 73.5,620.9 74.0,624.4 74.6,625.3 75.1,627.3 75.7,627.1 76.2,631.2 76.7,632.7 77.3,630.9 77.8,625.0 78.3,624.6 78.9,628.7 79.4,626.1 80.0,627.8 80.5,626.3 81.0,627.9 81.6,625.2 82.1,626.3 82.6,626.8 83.2,626.3 83.7,626.9 84.3,630.1 84.8,631.0 85.3,624.3 85.9,627.4 86.4,631.0 86.9,631.5 87.5,629.9 88.0,621.2 88.6,613.7 89.1,615.5 89.6,609.6 90.2,604.5 90.7,591.8 91.2,586.1 91.8,581.5 92.3,574.8 92.9,570.2 93.4,568.9 93.9,570.0 94.5,568.5 95.0,564.4 95.5,559.5 96.1,547.8 96.6,546.9 97.2,543.7 97.7,538.4 98.2,531.0 98.8,530.7 99.3,523.2 99.8,519.5 100.4,517.7 100.9,516.0 101.5,505.5 102.0,501.6 102.5,494.4 103.1,485.0 103.6,477.4 104.1,470.1 104.7,468.8 105.2,463.3 105.8,458.3 106.3,453.9 106.8,448.3 107.4,444.9 107.9,439.1 108.4,441.4 109.0,442.6 109.5,438.4 110.1,435.0 110.6,437.5 111.1,436.3 111.7,432.4 112.2,428.8 112.7,428.2 113.3,428.9 113.8,432.9 114.4,427.6 114.9,430.2 115.4,434.7 116.0,431.7 116.5,433.0 117.0,433.2 117.6,437.5 118.1,432.1 118.7,434.8 119.2,438.3 119.7,431.3 120.3,431.3 120.8,432.6 121.3,432.0 121.9,434.8 122.4,430.4 123.0,431.3 123.5,430.8 124.0,426.5 124.6,428.4 125.1,429.7 125.6,428.2 126.2,422.8 126.7,417.6 127.3,419.1 127.8,418.4 128.3,413.5 128.9,415.6 129.4,417.3 129.9,416.8 130.5,426.1 131.0,427.9 131.6,432.6 132.1,430.2 132.6,427.4 133.2,428.7 133.7,436.1 134.2,435.9 134.8,439.3 135.3,443.9 135.9,442.1 136.4,449.3 136.9,452.9 137.5,450.8 138.0,452.2 138.5,442.7 139.1,440.4 139.6,441.8 140.2,438.9 140.7,437.3 141.2,436.0 141.8,443.9 142.3,450.1 142.8,454.0 143.4,453.0 143.9,455.5 144.5,451.9 145.0,448.1 145.5,447.4 146.1,444.9 146.6,438.0 147.1,438.3 147.7,436.3 148.2,434.9 148.8,440.3 149.3,439.9 149.8,435.3 150.4,445.1 150.9,454.0 151.4,458.1 152.0,463.7 152.5,469.3 153.1,470.7 153.6,472.0 154.1,474.2 154.7,477.3 155.2,486.0 155.7,488.5 156.3,486.0 156.8,489.5 157.4,489.2 157.9,493.7 158.4,498.8 159.0,496.1 159.5,497.8 160.0,494.5 160.6,490.5 161.1,489.0 161.7,493.5 162.2,492.7 162.7,492.8 163.3,494.8 163.8,504.1 164.3,503.1 164.9,503.1 165.4,506.4 166.0,511.8 166.5,511.4 167.0,512.9 167.6,517.0 168.1,518.5 168.6,517.7 169.2,514.8 169.7,511.6 170.3,513.4 170.8,522.4 171.3,529.2 171.9,532.0 172.4,530.7 172.9,533.3 173.5,534.5 174.0,534.6 174.6,535.5 175.1,537.7 175.6,540.2 176.2,539.0 176.7,536.5 177.2,536.1 177.8,538.8 178.3,539.6 178.9,537.9 179.4,543.1 179.9,544.4 180.5,546.8 181.0,549.8 181.5,552.1 182.1,551.4 182.6,552.4 183.2,551.9 183.7,558.4 184.2,559.9 184.8,559.9 185.3,563.3 185.8,563.9 186.4,565.2 186.9,571.1 187.5,569.9 188.0,569.2 188.5,565.1 189.1,568.4 189.6,568.7 190.1,568.7 190.7,575.4 191.2,577.6 191.8,578.6 192.3,580.1 192.8,576.6 193.4,575.5 193.9,574.0 194.4,574.8 195.0,575.4 195.5,575.6 196.1,577.3 196.6,581.0 197.1,578.2 197.7,578.3 198.2,582.3 198.7,585.0 199.3,584.4 199.8,583.5 200.4,581.8 200.9,579.2 201.4,584.1 202.0,582.3 202.5,581.6 203.0,584.8 203.6,589.5 204.1,595.7 204.7,598.5 205.2,597.6 205.7,597.4 206.3,600.7 206.8,596.2 207.3,591.4 207.9,587.7 208.4,587.8 209.0,588.1 209.5,590.1 210.0,597.1 210.6,598.9 211.1,604.5 211.6,606.1 212.2,603.8 212.7,603.7 213.3,598.7 213.8,597.3 214.3,600.8 214.9,601.9 215.4,603.3 215.9,604.8 216.5,605.4 217.0,606.0 217.6,607.5 218.1,606.3 218.6,601.4 219.2,595.3 219.7,594.8 220.2,592.6 220.8,598.1 221.3,602.2 221.9,613.8 222.4,618.9 222.9,619.3 223.5,620.4 224.0,620.2 224.5,614.7 225.1,616.8 225.6,617.0 226.2,617.5 226.7,613.3 227.2,615.3 227.8,619.3 228.3,624.1 228.8,620.6 229.4,620.4 229.9,617.9 230.5,616.8 231.0,619.9 231.5,617.8 232.1,615.3 232.6,616.2 233.1,617.2 233.7,617.7 234.2,616.4 234.8,615.8 235.3,611.4 235.8,614.6 236.4,620.0 236.9,620.8 237.4,626.6 238.0,630.8 238.5,620.6 239.1,619.1 239.6,625.3 240.1,624.9 240.7,623.8 241.2,627.2 241.7,630.6 242.3,630.9 242.8,630.0 243.4,629.0 243.9,626.3 244.4,626.7 245.0,627.9 245.5,627.5 246.0,629.1 246.6,623.0 247.1,626.1 247.7,620.9 248.2,615.9 248.7,613.1 249.3,611.2 249.8,609.8 250.3,615.3 250.9,615.1 251.4,615.3 252.0,617.4 252.5,616.9 253.0,613.3 253.6,617.0 254.1,617.3 254.6,616.0 255.2,614.1 255.7,611.7 256.3,610.6 256.8,608.6 257.3,608.7 257.9,608.2 258.4,608.2 258.9,612.7 259.5,609.3 260.0,612.3 260.6,610.7 261.1,611.4 261.6,614.4 262.2,617.6 262.7,612.3 263.2,617.6 263.8,619.3 264.3,616.2 264.9,616.9 265.4,612.8 265.9,612.3 266.5,614.8 267.0,616.3 267.5,617.3 268.1,622.2 268.6,620.1 269.2,619.1 269.7,618.8 270.2,616.6 270.8,617.3 271.3,610.9 271.8,609.8 272.4,616.4 272.9,615.8 273.5,615.2 274.0,621.7 274.5,629.5 275.1,632.0 275.6,628.7 276.1,627.9 276.7,633.9 277.2,632.2 277.8,631.9 278.3,630.1 278.8,628.8 279.4,630.8 279.9,632.0 280.4,627.4 281.0,632.1 281.5,633.6 282.1,632.2 282.6,635.6 283.1,636.8 283.7,634.8 284.2,636.1 284.7,629.4 285.3,623.9 285.8,621.7 286.4,621.4 286.9,621.1 287.4,623.6 288.0,619.8 288.5,616.9 289.0,615.1 289.6,616.4 290.1,617.8 290.7,618.2 291.2,616.4 291.7,615.8 292.3,616.0 292.8,621.5 293.3,625.9 293.9,627.0 294.4,628.0 295.0,628.7 295.5,632.8 296.0,631.8 296.6,629.1 297.1,624.7 297.6,624.8 298.2,623.8 298.7,622.1 299.3,625.2 299.8,621.0 300.3,621.8 300.9,623.2 301.4,619.5 301.9,624.6 302.5,624.6 303.0,621.8 303.6,620.7 304.1,624.1 304.6,628.9 305.2,624.6 305.7,619.5 306.2,611.0 306.8,610.8 307.3,613.9 307.9,615.8 308.4,613.6 308.9,616.1 309.5,614.6 310.0,615.4 310.5,618.2 311.1,617.9 311.6,618.5 312.2,616.8 312.7,611.0 313.2,612.1 313.8,615.5 314.3,617.3 314.8,615.4 315.4,613.9 315.9,612.9 316.5,612.8 317.0,617.7 317.5,622.7 318.1,618.6 318.6,620.9 319.1,622.9 319.7,623.5 320.2,628.5 320.8,625.5 321.3,621.5 321.8,616.4 322.4,619.2 322.9,617.2 323.4,614.1 324.0,618.8 324.5,624.1 325.1,624.1 325.6,631.6 326.1,629.7 326.7,628.7 327.2,625.5 327.7,624.4 328.3,622.5 328.8,618.2 329.4,618.1 329.9,614.2 330.4,615.3 331.0,616.0 331.5,622.1 332.0,626.2 332.6,625.6 333.1,626.1 333.7,632.3 334.2,626.9 334.7,623.3 335.3,625.4 335.8,622.0 336.3,617.0 336.9,618.9 337.4,618.0 338.0,614.6 338.5,621.5 339.0,625.9 339.6,630.8 340.1,630.8 340.6,630.8 341.2,626.4 341.7,629.8 342.3,635.4 342.8,628.2 343.3,626.1 343.9,623.6 344.4,616.9 344.9,614.6 345.5,617.3 346.0,621.1 346.6,621.4 347.1,621.4 347.6,623.7 348.2,624.4 348.7,621.1 349.2,623.0 349.8,619.2 350.3,620.4 350.9,620.3 351.4,622.1 351.9,620.3 352.5,621.7 353.0,623.0 353.5,619.0 354.1,618.2 354.6,618.1 355.2,622.6 355.7,629.0 356.2,632.5 356.8,637.8 357.3,634.9 357.8,628.2 358.4,626.8 358.9,628.7 359.5,629.4 360.0,627.8 360.5,627.7 361.1,631.2 361.6,627.5 362.1,620.0 362.7,617.7 363.2,618.8 363.8,619.5 364.3,619.3 364.8,619.9 365.4,622.3 365.9,625.2 366.4,622.5 367.0,624.0 367.5,623.7 368.1,620.2 368.6,623.1 369.1,625.9 369.7,623.4 370.2,624.1 370.7,617.1 371.3,616.0 371.8,616.3 372.4,613.7 372.9,612.1 373.4,616.7 374.0,617.1 374.5,610.5 375.0,612.2 375.6,609.7 376.1,611.7 376.7,609.0 377.2,608.7 377.7,606.5 378.3,609.3 378.8,611.1 379.3,607.9 379.9,611.9 380.4,617.8 381.0,615.1 381.5,616.2 382.0,618.0 382.6,618.3 383.1,620.1 383.6,622.9 384.2,629.0 384.7,634.3 385.3,631.8 385.8,627.4 386.3,627.7 386.9,619.6 387.4,614.7 387.9,612.9 388.5,610.0 389.0,611.9 389.6,614.0 390.1,618.0 390.6,618.4 391.2,620.5 391.7,626.9 392.2,626.9 392.8,633.6 393.3,631.7 393.9,628.0 394.4,620.7 394.9,621.9 395.5,619.2 396.0,621.5 396.5,614.9 397.1,611.0 397.6,613.5 398.2,619.8 398.7,615.5 399.2,613.9 399.8,614.2 400.3,617.7 400.8,621.2 401.4,615.6 401.9,610.6 402.5,612.3 403.0,611.0 403.5,614.3 404.1,615.9 404.6,618.3 405.1,622.9 405.7,619.5 406.2,626.5 406.8,629.8 407.3,632.4 407.8,631.1 408.4,631.7 408.9,634.4 409.4,633.6 410.0,628.3 410.5,628.4 411.1,632.8 411.6,628.9 412.1,620.2 412.7,614.9 413.2,612.1 413.7,614.4 414.3,611.6 414.8,613.5 415.4,615.1 415.9,614.2 416.4,611.7 417.0,612.0 417.5,612.1 418.0,615.1 418.6,614.9 419.1,616.2 419.7,615.4 420.2,616.0 420.7,617.3 421.3,616.7 421.8,618.1 422.3,618.5 422.9,618.9 423.4,616.6 424.0,617.3 424.5,615.7 425.0,616.3 425.6,616.9 426.1,620.0 426.6,624.3 427.2,624.4 427.7,617.8 428.3,620.4 428.8,622.0 429.3,623.4 429.9,621.3 430.4,614.0 430.9,619.9 431.5,618.2 432.0,617.0 432.6,619.0 433.1,619.2 433.6,617.5 434.2,616.4 434.7,615.9 435.2,613.9 435.8,617.5 436.3,615.1 436.9,613.8 437.4,618.7 437.9,628.0 438.5,633.0 439.0,624.8 439.5,623.2 440.1,624.3 440.6,620.9 441.2,623.9 441.7,625.0 442.2,627.3 442.8,624.9 443.3,625.0 443.8,622.9 444.4,617.4 444.9,618.0 445.5,620.3 446.0,614.6 446.5,612.9 447.1,616.1 447.6,615.4 448.1,614.8 448.7,616.5 449.2,617.5 449.8,619.1 450.3,622.5 450.8,620.7 451.4,628.0 451.9,628.7 452.4,621.7 453.0,619.3 453.5,623.6 454.1,624.5 454.6,624.2 455.1,618.5 455.7,619.0 456.2,620.0 456.7,615.3 457.3,611.5 457.8,611.7 458.4,610.1 458.9,614.3 459.4,619.2 460.0,622.1 460.5,621.2 461.0,619.1 461.6,618.8 462.1,618.6 462.7,620.3 463.2,619.6 463.7,619.6 464.3,623.9 464.8,625.4 465.3,617.8 465.9,617.9 466.4,619.0 467.0,616.6 467.5,617.1 468.0,619.9 468.6,618.5 469.1,621.2 469.6,619.7 470.2,619.9 470.7,618.4 471.3,621.4 471.8,622.8 472.3,626.5 472.9,630.2 473.4,632.8 473.9,627.3 474.5,625.7 475.0,623.5 475.6,617.7 476.1,615.3 476.6,613.9 477.2,610.6 477.7,609.1 478.2,614.0 478.8,618.4 479.3,616.7 479.9,613.4 480.4,619.5 480.9,619.3 481.5,622.8 482.0,622.5 482.5,624.9 483.1,628.3 483.6,624.7 484.2,619.7 484.7,625.1 485.2,627.2 485.8,630.4 486.3,630.6 486.8,628.4 487.4,624.9 487.9,620.2 488.5,624.4 489.0,627.6 489.5,631.8 490.1,637.4 490.6,640.9 491.1,640.1 491.7,645.4 492.2,639.8 492.8,639.0 493.3,640.6 493.8,639.3 494.4,632.5 494.9,626.6 495.4,620.9 496.0,621.4 496.5,619.3 497.1,617.7 497.6,619.2 498.1,623.1 498.7,628.7 499.2,630.6 499.7,628.3 500.3,624.6 500.8,617.9 501.4,611.0 501.9,609.7 502.4,610.7 503.0,608.7 503.5,614.4 504.0,617.1 504.6,614.3 505.1,622.1 505.7,622.6 506.2,620.0 506.7,615.6 507.3,617.8 507.8,615.6 508.3,618.2 508.9,620.7 509.4,618.5 510.0,619.8 510.5,623.9" stroke="#ffe600"/>
<polyline points="54.2,639.4 54.7,633.0 55.2,641.9 55.8,637.6 56.3,629.4 56.8,626.3 57.4,633.5 57.9,630.5 58.5,631.7 59.0,642.3 59.5,650.7 60.1,647.5 60.6,632.8 61.1,634.2 61.7,642.7 62.2,640.4 62.8,637.9 63.3,636.7 63.8,631.0 64.4,621.1 64.9,634.0 65.4,634.0 66.0,637.9 66.5,639.3 67.1,640.3 67.6,638.2 68.1,638.7 68.7,634.7 69.2,636.4 69.7,639.5 70.3,628.9 70.8,640.9 71.4,633.0 71.9,623.4 72.4,634.3 73.0,625.8 73.5,623.6 74.0,633.5 74.6,643.6 75.1,629.1 75.7,633.2 76.2,636.5 76.7,629.9 77.3,637.1 77.8,632.1 78.3,637.6 78.9,635.5 79.4,641.9 80.0,640.3 80.5,641.5 81.0,639.4 81.6,634.2 82.1,634.6 82.6,631.4 83.2,626.2 83.7,635.4 84.3,645.3 84.8,637.2 85.3,630.4 85.9,622.9 86.4,620.0 86.9,620.5 87.5,624.8 88.0,623.2 88.6,629.5 89.1,616.6 89.6,616.7 90.2,617.8 90.7,620.9 91.2,619.1 91.8,619.2 92.3,613.9 92.9,618.3 93.4,606.1 93.9,601.0 94.5,593.8 95.0,602.1 95.5,603.0 96.1,599.5 96.6,597.9 97.2,597.9 97.7,601.2 98.2,598.8 98.8,592.1 99.3,588.2 99.8,590.8 100.4,588.5 100.9,579.4 101.5,571.3 102.0,572.0 102.5,565.6 103.1,560.4 103.6,560.2 104.1,564.4 104.7,564.8 105.2,568.4 105.8,558.7 106.3,549.9 106.8,552.3 107.4,538.7 107.9,536.5 108.4,544.6 109.0,541.7 109.5,551.5 110.1,549.6 110.6,542.0 111.1,536.9 111.7,536.8 112.2,535.4 112.7,520.6 113.3,525.7 113.8,527.1 114.4,525.3 114.9,528.1 115.4,531.5 116.0,535.2 116.5,537.0 117.0,523.0 117.6,533.8 118.1,540.6 118.7,537.5 119.2,535.0 119.7,516.0 120.3,517.8 120.8,512.8 121.3,511.4 121.9,516.1 122.4,518.9 123.0,525.4 123.5,524.0 124.0,525.0 124.6,522.9 125.1,523.3 125.6,513.1 126.2,514.3 126.7,522.5 127.3,529.6 127.8,517.2 128.3,513.5 128.9,520.3 129.4,525.7 129.9,515.5 130.5,512.9 131.0,525.8 131.6,518.9 132.1,527.1 132.6,517.6 133.2,508.3 133.7,516.4 134.2,518.9 134.8,523.3 135.3,519.3 135.9,506.0 136.4,511.0 136.9,522.8 137.5,525.7 138.0,520.9 138.5,511.1 139.1,519.4 139.6,519.8 140.2,529.2 140.7,533.1 141.2,520.9 141.8,526.5 142.3,532.6 142.8,532.7 143.4,532.0 143.9,532.9 144.5,534.3 145.0,520.7 145.5,521.1 146.1,521.6 146.6,528.9 147.1,528.5 147.7,528.7 148.2,524.9 148.8,527.4 149.3,533.2 149.8,541.5 150.4,546.3 150.9,545.0 151.4,543.9 152.0,544.7 152.5,545.1 153.1,531.2 153.6,539.0 154.1,553.8 154.7,552.3 155.2,550.3 155.7,540.4 156.3,536.7 156.8,546.2 157.4,541.7 157.9,543.4 158.4,536.8 159.0,535.9 159.5,542.2 160.0,543.3 160.6,548.2 161.1,553.2 161.7,556.7 162.2,549.7 162.7,550.3 163.3,552.3 163.8,551.0 164.3,552.8 164.9,558.0 165.4,554.7 166.0,547.2 166.5,551.8 167.0,548.8 167.6,562.7 168.1,566.1 168.6,557.0 169.2,553.7 169.7,560.1 170.3,554.7 170.8,551.3 171.3,552.2 171.9,559.2 172.4,563.0 172.9,569.6 173.5,561.2 174.0,555.3 174.6,552.5 175.1,567.1 175.6,570.1 176.2,568.9 176.7,564.3 177.2,581.3 177.8,574.3 178.3,556.5 178.9,564.3 179.4,577.3 179.9,572.1 180.5,566.0 181.0,568.5 181.5,575.5 182.1,578.5 182.6,571.5 183.2,573.0 183.7,569.7 184.2,571.6 184.8,573.9 185.3,566.0 185.8,573.0 186.4,571.8 186.9,576.4 187.5,576.2 188.0,577.2 188.5,579.5 189.1,574.2 189.6,566.3 190.1,562.4 190.7,566.5 191.2,574.2 191.8,568.5 192.3,570.8 192.8,569.5 193.4,582.6 193.9,574.7 194.4,581.1 195.0,576.7 195.5,582.4 196.1,579.1 196.6,587.6 197.1,598.6 197.7,595.6 198.2,590.5 198.7,592.1 199.3,604.4 199.8,601.6 200.4,597.3 200.9,593.8 201.4,593.2 202.0,600.8 202.5,604.6 203.0,595.9 203.6,594.8 204.1,589.8 204.7,593.9 205.2,590.9 205.7,596.6 206.3,592.9 206.8,592.7 207.3,593.9 207.9,601.3 208.4,600.2 209.0,602.7 209.5,598.9 210.0,590.0 210.6,579.6 211.1,593.3 211.6,595.2 212.2,596.8 212.7,593.0 213.3,594.9 213.8,593.6 214.3,594.1 214.9,584.8 215.4,593.1 215.9,610.7 216.5,604.1 217.0,606.2 217.6,618.3 218.1,613.3 218.6,609.6 219.2,609.8 219.7,608.4 220.2,615.5 220.8,603.9 221.3,601.4 221.9,605.8 222.4,610.5 222.9,610.4 223.5,609.9 224.0,601.1 224.5,599.5 225.1,594.7 225.6,604.1 226.2,600.5 226.7,610.5 227.2,613.6 227.8,617.0 228.3,610.6 228.8,611.0 229.4,606.4 229.9,602.3 230.5,609.5 231.0,608.9 231.5,607.5 232.1,614.2 232.6,618.1 233.1,613.8 233.7,611.2 234.2,609.1 234.8,610.5 235.3,617.9 235.8,612.9 236.4,609.8 236.9,618.3 237.4,617.7 238.0,621.0 238.5,614.8 239.1,605.5 239.6,612.6 240.1,618.1 240.7,610.6 241.2,606.9 241.7,604.8 242.3,617.5 242.8,617.7 243.4,615.1 243.9,619.9 244.4,612.4 245.0,627.1 245.5,627.0 246.0,628.6 246.6,622.7 247.1,613.0 247.7,611.3 248.2,610.0 248.7,615.3 249.3,627.9 249.8,620.8 250.3,627.7 250.9,622.6 251.4,620.5 252.0,620.3 252.5,617.3 253.0,620.6 253.6,609.7 254.1,611.8 254.6,610.0 255.2,610.4 255.7,610.5 256.3,612.0 256.8,605.5 257.3,618.3 257.9,615.2 258.4,617.1 258.9,619.6 259.5,619.5 260.0,623.6 260.6,616.0 261.1,614.9 261.6,617.7 262.2,616.9 262.7,627.1 263.2,631.8 263.8,624.4 264.3,615.9 264.9,603.1 265.4,613.8 265.9,611.7 266.5,610.4 267.0,607.3 267.5,617.5 268.1,619.1 268.6,624.7 269.2,630.5 269.7,632.2 270.2,627.9 270.8,616.0 271.3,619.7 271.8,623.2 272.4,623.3 272.9,625.6 273.5,623.5 274.0,622.1 274.5,617.9 275.1,619.3 275.6,631.2 276.1,622.0 276.7,615.6 277.2,626.7 277.8,624.9 278.3,619.8 278.8,614.5 279.4,617.4 279.9,622.0 280.4,618.1 281.0,614.8 281.5,615.7 282.1,610.3 282.6,619.4 283.1,630.7 283.7,631.2 284.2,627.5 284.7,625.9 285.3,621.3 285.8,619.1 286.4,612.2 286.9,614.0 287.4,614.2 288.0,625.6 288.5,625.1 289.0,618.7 289.6,619.8 290.1,618.1 290.7,621.0 291.2,623.4 291.7,611.9 292.3,615.9 292.8,631.3 293.3,628.5 293.9,621.9 294.4,617.6 295.0,622.4 295.5,627.4 296.0,617.7 296.6,618.6 297.1,613.5 297.6,616.4 298.2,614.8 298.7,615.7 299.3,618.8 299.8,625.9 300.3,621.1 300.9,626.8 301.4,636.1 301.9,633.4 302.5,630.6 303.0,625.1 303.6,625.0 304.1,632.3 304.6,625.1 305.2,628.3 305.7,632.1 306.2,623.9 306.8,630.1 307.3,630.9 307.9,618.8 308.4,616.7 308.9,622.9 309.5,615.4 310.0,616.2 310.5,622.6 311.1,614.1 311.6,623.0 312.2,628.6 312.7,639.1 313.2,626.5 313.8,627.7 314.3,626.5 314.8,633.5 315.4,619.4 315.9,612.7 316.5,616.5 317.0,638.7 317.5,624.5 318.1,624.9 318.6,641.3 319.1,631.3 319.7,621.7 320.2,615.3 320.8,625.4 321.3,623.7 321.8,624.1 322.4,624.3 322.9,627.4 323.4,621.5 324.0,622.8 324.5,632.3 325.1,623.0 325.6,628.7 326.1,625.9 326.7,618.1 327.2,621.4 327.7,619.9 328.3,618.2 328.8,620.4 329.4,627.3 329.9,628.1 330.4,618.0 331.0,615.2 331.5,618.1 332.0,620.7 332.6,617.1 333.1,623.3 333.7,630.6 334.2,622.8 334.7,618.7 335.3,619.1 335.8,627.9 336.3,627.4 336.9,621.5 337.4,623.8 338.0,621.5 338.5,616.4 339.0,616.8 339.6,612.2 340.1,617.8 340.6,613.2 341.2,613.2 341.7,609.4 342.3,622.4 342.8,624.7 343.3,619.3 343.9,627.9 344.4,629.1 344.9,624.3 345.5,624.6 346.0,631.9 346.6,624.9 347.1,624.8 347.6,623.3 348.2,622.0 348.7,622.0 349.2,616.3 349.8,619.5 350.3,624.9 350.9,624.0 351.4,619.3 351.9,619.4 352.5,619.2 353.0,626.1 353.5,623.2 354.1,614.2 354.6,620.7 355.2,615.0 355.7,620.1 356.2,631.3 356.8,636.7 357.3,628.4 357.8,633.0 358.4,635.7 358.9,636.2 359.5,620.8 360.0,621.7 360.5,622.1 361.1,619.2 361.6,619.1 362.1,619.4 362.7,618.5 363.2,626.5 363.8,637.2 364.3,622.2 364.8,620.1 365.4,620.7 365.9,616.5 366.4,634.1 367.0,641.1 367.5,619.3 368.1,622.3 368.6,634.1 369.1,628.0 369.7,622.5 370.2,628.9 370.7,618.6 371.3,607.7 371.8,611.6 372.4,620.4 372.9,622.1 373.4,627.2 374.0,623.3 374.5,625.3 375.0,630.3 375.6,628.5 376.1,612.5 376.7,620.5 377.2,629.2 377.7,625.0 378.3,613.2 378.8,613.3 379.3,625.6 379.9,623.7 380.4,620.8 381.0,628.8 381.5,635.6 382.0,634.2 382.6,629.1 383.1,632.4 383.6,634.2 384.2,625.8 384.7,616.5 385.3,616.7 385.8,619.1 386.3,612.1 386.9,624.7 387.4,627.4 387.9,631.9 388.5,623.5 389.0,628.8 389.6,638.6 390.1,632.4 390.6,617.2 391.2,620.1 391.7,623.3 392.2,622.5 392.8,634.0 393.3,633.2 393.9,633.9 394.4,630.8 394.9,625.9 395.5,619.1 396.0,615.0 396.5,612.0 397.1,606.6 397.6,622.0 398.2,622.7 398.7,620.5 399.2,626.5 399.8,624.2 400.3,621.5 400.8,626.6 401.4,620.0 401.9,617.5 402.5,632.4 403.0,639.8 403.5,629.9 404.1,631.8 404.6,627.4 405.1,627.9 405.7,622.5 406.2,616.2 406.8,618.1 407.3,626.7 407.8,635.6 408.4,644.9 408.9,643.6 409.4,634.2 410.0,628.4 410.5,631.7 411.1,634.0 411.6,639.9 412.1,641.7 412.7,638.4 413.2,628.1 413.7,635.4 414.3,625.3 414.8,628.2 415.4,622.6 415.9,621.9 416.4,619.4 417.0,619.8 417.5,631.8 418.0,635.5 418.6,633.3 419.1,632.2 419.7,625.1 420.2,626.8 420.7,626.1 421.3,624.3 421.8,626.4 422.3,622.8 422.9,635.1 423.4,627.2 424.0,624.8 424.5,631.9 425.0,631.1 425.6,623.5 426.1,630.9 426.6,641.5 427.2,636.8 427.7,624.3 428.3,628.0 428.8,617.0 429.3,615.1 429.9,622.9 430.4,623.0 430.9,629.7 431.5,629.8 432.0,629.1 432.6,624.4 433.1,631.5 433.6,626.8 434.2,623.2 434.7,624.1 435.2,638.8 435.8,639.9 436.3,633.8 436.9,629.1 437.4,627.0 437.9,624.4 438.5,616.2 439.0,621.7 439.5,625.3 440.1,629.3 440.6,622.9 441.2,621.2 441.7,622.5 442.2,626.1 442.8,621.7 443.3,618.8 443.8,633.4 444.4,640.7 444.9,625.2 445.5,622.3 446.0,627.8 446.5,625.1 447.1,610.7 447.6,626.1 448.1,634.6 448.7,630.7 449.2,626.3 449.8,632.1 450.3,632.3 450.8,629.7 451.4,632.5 451.9,630.5 452.4,631.7 453.0,635.8 453.5,631.9 454.1,634.1 454.6,626.1 455.1,632.7 455.7,633.3 456.2,639.0 456.7,633.9 457.3,632.0 457.8,618.9 458.4,623.1 458.9,625.0 459.4,636.9 460.0,636.0 460.5,631.1 461.0,633.2 461.6,622.8 462.1,627.4 462.7,626.1 463.2,624.8 463.7,625.5 464.3,622.3 464.8,627.4 465.3,621.7 465.9,616.3 466.4,620.9 467.0,623.6 467.5,625.9 468.0,623.5 468.6,620.8 469.1,627.5 469.6,634.9 470.2,627.0 470.7,625.7 471.3,623.6 471.8,623.4 472.3,619.5 472.9,633.3 473.4,633.5 473.9,625.8 474.5,630.8 475.0,625.2 475.6,627.5 476.1,635.1 476.6,621.2 477.2,614.7 477.7,622.8 478.2,630.5 478.8,622.5 479.3,628.4 479.9,624.7 480.4,622.0 480.9,629.9 481.5,635.4 482.0,628.3 482.5,627.2 483.1,631.9 483.6,630.3 484.2,622.1 484.7,624.7 485.2,627.7 485.8,627.5 486.3,623.0 486.8,622.5 487.4,626.2 487.9,632.7 488.5,629.9 489.0,630.1 489.5,625.9 490.1,619.3 490.6,619.0 491.1,620.9 491.7,623.9 492.2,625.2 492.8,622.5 493.3,625.8 493.8,627.1 494.4,629.1 494.9,625.9 495.4,622.8 496.0,614.3 496.5,620.8 497.1,626.6 497.6,623.2 498.1,626.6 498.7,620.1 499.2,616.3 499.7,610.3 500.3,628.9 500.8,629.1 501.4,627.6 501.9,625.0 502.4,624.6 503.0,633.3 503.5,632.5 504.0,624.8 504.6,622.0 505.1,633.1 505.7,634.4 506.2,619.7 506.7,617.3 507.3,619.5 507.8,630.1 508.3,628.2 508.9,624.7 509.4,624.2 510.0,627.7 510.5,627.5" stroke="#ff7d00"/>
<polyline points="54.2,638.2 54.7,640.7 55.2,638.2 55.8,631.7 56.3,629.5 56.8,634.1 57.4,635.0 57.9,629.3 58.5,622.2 59.0,642.8 59.5,640.9 60.1,630.3 60.6,628.7 61.1,623.1 61.7,620.6 62.2,621.1 62.8,635.4 63.3,632.6 63.8,634.0 64.4,629.1 64.9,630.8 65.4,629.5 66.0,636.2 66.5,633.2 67.1,634.9 67.6,634.4 68.1,636.4 68.7,637.7 69.2,627.5 69.7,629.0 70.3,629.3 70.8,642.7 71.4,649.7 71.9,641.7 72.4,634.3 73.0,626.5 73.5,622.7 74.0,620.7 74.6,620.1 75.1,626.2 75.7,633.1 76.2,637.5 76.7,631.7 77.3,637.0 77.8,638.0 78.3,630.0 78.9,628.9 79.4,627.9 80.0,634.2 80.5,627.0 81.0,630.9 81.6,637.2 82.1,642.7 82.6,646.0 83.2,643.7 83.7,631.0 84.3,640.7 84.8,633.6 85.3,636.3 85.9,639.4 86.4,638.4 86.9,633.9 87.5,627.0 88.0,627.7 88.6,632.9 89.1,642.1 89.6,640.3 90.2,622.0 90.7,634.5 91.2,637.7 91.8,625.3 92.3,633.1 92.9,621.7 93.4,616.3 93.9,616.8 94.5,614.4 95.0,625.1 95.5,623.7 96.1,614.5 96.6,609.9 97.2,607.5 97.7,604.6 98.2,612.2 98.8,617.7 99.3,604.2 99.8,601.4 100.4,592.5 100.9,584.4 101.5,592.3 102.0,593.0 102.5,597.4 103.1,588.6 103.6,589.1 104.1,589.6 104.7,589.0 105.2,598.4 105.8,591.4 106.3,587.8 106.8,586.1 107.4,602.4 107.9,593.2 108.4,580.1 109.0,592.3 109.5,592.4 110.1,576.5 110.6,571.0 111.1,584.7 111.7,592.5 112.2,592.4 112.7,592.0 113.3,595.0 113.8,594.7 114.4,589.3 114.9,588.2 115.4,586.2 116.0,589.8 116.5,594.8 117.0,585.4 117.6,587.1 118.1,593.3 118.7,592.6 119.2,589.3 119.7,589.9 120.3,589.1 120.8,581.9 121.3,579.3 121.9,585.9 122.4,587.5 123.0,592.5 123.5,587.7 124.0,582.0 124.6,579.8 125.1,583.9 125.6,587.6 126.2,590.8 126.7,588.7 127.3,594.3 127.8,589.8 128.3,590.6 128.9,594.6 129.4,588.6 129.9,587.7 130.5,583.8 131.0,586.5 131.6,579.6 132.1,573.0 132.6,579.0 133.2,580.1 133.7,588.6 134.2,592.6 134.8,600.0 135.3,593.8 135.9,595.5 136.4,592.7 136.9,602.6 137.5,597.7 138.0,590.5 138.5,591.4 139.1,602.8 139.6,594.6 140.2,577.8 140.7,585.8 141.2,597.5 141.8,613.8 142.3,604.6 142.8,592.8 143.4,591.5 143.9,589.4 144.5,587.0 145.0,590.2 145.5,590.8 146.1,599.1 146.6,580.8 147.1,591.9 147.7,595.1 148.2,583.8 148.8,585.4 149.3,587.0 149.8,595.1 150.4,591.7 150.9,591.1 151.4,601.1 152.0,599.0 152.5,598.5 153.1,599.9 153.6,603.7 154.1,605.4 154.7,596.3 155.2,593.2 155.7,589.3 156.3,595.5 156.8,601.4 157.4,604.2 157.9,596.6 158.4,593.8 159.0,580.9 159.5,578.1 160.0,587.1 160.6,605.2 161.1,611.0 161.7,606.1 162.2,605.2 162.7,594.2 163.3,599.5 163.8,604.1 164.3,600.4 164.9,595.4 165.4,605.0 166.0,602.6 166.5,610.0 167.0,606.6 167.6,605.9 168.1,600.6 168.6,598.4 169.2,593.1 169.7,596.9 170.3,607.1 170.8,613.2 171.3,611.2 171.9,608.3 172.4,607.9 172.9,608.5 173.5,598.5 174.0,598.7 174.6,606.9 175.1,610.0 175.6,608.6 176.2,607.3 176.7,609.7 177.2,618.2 177.8,616.3 178.3,621.1 178.9,611.2 179.4,607.3 179.9,615.2 180.5,611.4 181.0,614.3 181.5,611.8 182.1,597.0 182.6,599.8 183.2,604.7 183.7,609.0 184.2,605.6 184.8,606.9 185.3,606.3 185.8,613.1 186.4,611.4 186.9,614.4 187.5,616.8 188.0,600.7 188.5,604.0 189.1,616.5 189.6,622.4 190.1,619.4 190.7,619.0 191.2,619.5 191.8,624.2 192.3,620.6 192.8,614.0 193.4,614.6 193.9,626.1 194.4,619.4 195.0,622.8 195.5,624.0 196.1,620.8 196.6,620.5 197.1,613.2 197.7,613.1 198.2,620.1 198.7,620.0 199.3,605.1 199.8,602.8 200.4,612.4 200.9,616.1 201.4,609.1 202.0,608.0 202.5,616.6 203.0,609.3 203.6,617.2 204.1,616.3 204.7,624.4 205.2,624.6 205.7,626.2 206.3,622.2 206.8,618.1 207.3,627.6 207.9,625.7 208.4,621.2 209.0,622.3 209.5,613.5 210.0,624.6 210.6,609.4 211.1,620.0 211.6,613.7 212.2,609.2 212.7,618.8 213.3,631.7 213.8,627.8 214.3,622.7 214.9,617.7 215.4,613.3 215.9,610.8 216.5,612.3 217.0,624.5 217.6,621.4 218.1,633.4 218.6,628.4 219.2,634.3 219.7,636.2 220.2,621.6 220.8,621.4 221.3,620.4 221.9,634.4 222.4,634.5 222.9,627.7 223.5,628.0 224.0,625.1 224.5,627.8 225.1,628.8 225.6,630.5 226.2,619.9 226.7,628.2 227.2,633.6 227.8,623.6 228.3,622.2 228.8,624.1 229.4,625.5 229.9,629.2 230.5,632.0 231.0,643.7 231.5,642.3 232.1,636.4 232.6,624.3 233.1,617.7 233.7,624.7 234.2,625.5 234.8,620.0 235.3,626.4 235.8,623.6 236.4,626.8 236.9,636.1 237.4,629.0 238.0,629.2 238.5,637.2 239.1,638.1 239.6,634.2 240.1,616.0 240.7,609.2 241.2,615.9 241.7,617.9 242.3,631.3 242.8,618.3 243.4,611.3 243.9,616.6 244.4,629.5 245.0,621.9 245.5,623.5 246.0,620.1 246.6,627.9 247.1,627.8 247.7,629.4 248.2,625.5 248.7,626.4 249.3,620.9 249.8,621.9 250.3,625.7 250.9,629.4 251.4,630.7 252.0,627.1 252.5,621.8 253.0,623.2 253.6,622.7 254.1,623.9 254.6,625.4 255.2,631.3 255.7,636.6 256.3,623.9 256.8,623.3 257.3,628.9 257.9,618.3 258.4,629.8 258.9,622.1 259.5,623.1 260.0,622.2 260.6,617.0 261.1,618.3 261.6,626.2 262.2,635.3 262.7,636.6 263.2,626.6 263.8,617.5 264.3,621.7 264.9,628.3 265.4,627.1 265.9,622.6 266.5,618.9 267.0,629.7 267.5,623.6 268.1,624.1 268.6,630.3 269.2,628.9 269.7,616.0 270.2,619.4 270.8,624.4 271.3,623.0 271.8,619.5 272.4,622.5 272.9,618.4 273.5,629.3 274.0,635.0 274.5,633.1 275.1,636.6 275.6,632.1 276.1,620.9 276.7,617.5 277.2,624.5 277.8,630.7 278.3,638.5 278.8,638.4 279.4,630.0 279.9,630.0 280.4,634.5 281.0,631.4 281.5,619.3 282.1,621.3 282.6,628.0 283.1,626.8 283.7,621.2 284.2,625.2 284.7,630.0 285.3,641.5 285.8,645.3 286.4,647.2 286.9,646.1 287.4,631.9 288.0,628.1 288.5,633.1 289.0,626.8 289.6,625.6 290.1,631.0 290.7,636.0 291.2,619.9 291.7,618.9 292.3,627.7 292.8,618.4 293.3,628.2 293.9,636.0 294.4,636.9 295.0,642.1 295.5,635.8 296.0,636.0 296.6,621.5 297.1,625.2 297.6,634.8 298.2,629.4 298.7,638.3 299.3,629.8 299.8,625.2 300.3,628.7 300.9,634.9 301.4,630.2 301.9,628.6 302.5,625.0 303.0,615.4 303.6,612.1 304.1,616.2 304.6,630.8 305.2,633.9 305.7,628.6 306.2,628.6 306.8,641.2 307.3,631.9 307.9,618.8 308.4,632.9 308.9,634.2 309.5,631.2 310.0,624.4 310.5,626.3 311.1,630.3 311.6,634.3 312.2,623.0 312.7,624.1 313.2,628.2 313.8,624.1 314.3,622.6 314.8,636.7 315.4,640.6 315.9,637.4 316.5,638.8 317.0,648.1 317.5,633.1 318.1,620.7 318.6,625.2 319.1,625.5 319.7,643.8 320.2,630.3 320.8,616.0 321.3,615.7 321.8,629.0 322.4,632.8 322.9,629.0 323.4,636.8 324.0,636.8 324.5,641.5 325.1,632.6 325.6,627.5 326.1,619.0 326.7,625.7 327.2,632.9 327.7,632.2 328.3,635.8 328.8,628.4 329.4,625.5 329.9,619.8 330.4,619.4 331.0,633.1 331.5,622.6 332.0,620.1 332.6,627.9 333.1,616.9 333.7,624.9 334.2,612.6 334.7,618.5 335.3,621.3 335.8,624.0 336.3,623.0 336.9,633.8 337.4,636.8 338.0,639.5 338.5,627.6 339.0,629.6 339.6,623.1 340.1,625.2 340.6,634.9 341.2,626.1 341.7,626.2 342.3,627.2 342.8,626.7 343.3,629.3 343.9,628.0 344.4,624.2 344.9,635.3 345.5,638.6 346.0,632.7 346.6,622.2 347.1,623.7 347.6,618.8 348.2,642.5 348.7,634.6 349.2,628.1 349.8,621.8 350.3,616.8 350.9,626.6 351.4,631.7 351.9,620.6 352.5,620.1 353.0,640.6 353.5,628.3 354.1,627.6 354.6,635.3 355.2,634.2 355.7,629.6 356.2,630.9 356.8,634.8 357.3,639.0 357.8,633.0 358.4,635.7 358.9,633.3 359.5,634.6 360.0,629.1 360.5,624.5 361.1,625.7 361.6,626.6 362.1,635.4 362.7,626.7 363.2,625.8 363.8,630.5 364.3,632.8 364.8,643.8 365.4,630.3 365.9,631.7 366.4,639.9 367.0,627.2 367.5,628.9 368.1,626.1 368.6,627.3 369.1,624.9 369.7,627.8 370.2,630.6 370.7,626.6 371.3,628.5 371.8,643.7 372.4,634.1 372.9,633.8 373.4,632.6 374.0,617.5 374.5,618.5 375.0,631.9 375.6,633.0 376.1,623.8 376.7,629.8 377.2,632.8 377.7,639.7 378.3,628.5 378.8,620.1 379.3,627.9 379.9,625.9 380.4,615.5 381.0,617.7 381.5,617.2 382.0,620.8 382.6,623.0 383.1,638.8 383.6,639.1 384.2,636.7 384.7,616.6 385.3,623.8 385.8,630.1 386.3,635.1 386.9,640.7 387.4,644.3 387.9,618.7 388.5,625.0 389.0,629.9 389.6,636.6 390.1,629.6 390.6,625.3 391.2,626.3 391.7,624.9 392.2,631.2 392.8,625.3 393.3,620.6 393.9,622.1 394.4,624.4 394.9,628.9 395.5,632.6 396.0,625.7 396.5,630.3 397.1,633.0 397.6,627.4 398.2,638.5 398.7,633.7 399.2,623.1 399.8,621.7 400.3,628.6 400.8,626.8 401.4,623.8 401.9,627.9 402.5,631.5 403.0,625.6 403.5,625.8 404.1,625.4 404.6,620.7 405.1,625.7 405.7,631.2 406.2,626.3 406.8,619.0 407.3,632.7 407.8,634.9 408.4,634.8 408.9,629.2 409.4,632.8 410.0,622.2 410.5,618.9 411.1,628.2 411.6,632.9 412.1,635.8 412.7,630.0 413.2,634.8 413.7,633.4 414.3,631.6 414.8,630.3 415.4,619.6 415.9,618.1 416.4,638.2 417.0,634.2 417.5,627.5 418.0,633.4 418.6,631.3 419.1,624.3 419.7,616.5 420.2,618.8 420.7,628.1 421.3,628.6 421.8,630.5 422.3,631.2 422.9,637.8 423.4,640.8 424.0,630.9 424.5,620.9 425.0,624.6 425.6,639.3 426.1,633.8 426.6,632.4 427.2,629.0 427.7,632.5 428.3,623.0 428.8,625.0 429.3,621.1 429.9,622.6 430.4,637.7 430.9,629.3 431.5,618.8 432.0,624.4 432.6,621.3 433.1,624.5 433.6,629.3 434.2,623.9 434.7,616.9 435.2,613.9 435.8,616.6 436.3,629.4 436.9,624.5 437.4,632.9 437.9,627.9 438.5,624.5 439.0,619.3 439.5,618.2 440.1,615.7 440.6,624.0 441.2,619.0 441.7,621.2 442.2,627.4 442.8,633.9 443.3,625.9 443.8,624.5 444.4,623.4 444.9,628.3 445.5,630.2 446.0,626.8 446.5,625.6 447.1,622.8 447.6,619.3 448.1,629.3 448.7,624.4 449.2,645.0 449.8,630.4 450.3,630.3 450.8,619.0 451.4,628.7 451.9,623.3 452.4,632.6 453.0,633.2 453.5,620.9 454.1,619.8 454.6,624.9 455.1,612.6 455.7,622.7 456.2,620.1 456.7,634.1 457.3,636.8 457.8,632.1 458.4,635.2 458.9,631.8 459.4,642.2 460.0,633.0 460.5,634.8 461.0,636.8 461.6,630.8 462.1,631.8 462.7,631.3 463.2,623.7 463.7,623.9 464.3,621.8 464.8,617.3 465.3,622.8 465.9,620.9 466.4,625.5 467.0,620.9 467.5,621.4 468.0,629.7 468.6,637.0 469.1,636.4 469.6,631.3 470.2,622.1 470.7,624.1 471.3,624.9 471.8,620.1 472.3,616.5 472.9,615.4 473.4,625.2 473.9,620.8 474.5,620.3 475.0,628.3 475.6,625.2 476.1,628.4 476.6,624.3 477.2,622.7 477.7,634.5 478.2,633.8 478.8,632.1 479.3,628.8 479.9,631.7 480.4,628.5 480.9,634.3 481.5,632.7 482.0,625.8 482.5,626.3 483.1,628.2 483.6,628.0 484.2,621.1 484.7,619.7 485.2,630.4 485.8,635.7 486.3,634.0 486.8,621.5 487.4,634.8 487.9,639.4 488.5,628.9 489.0,624.9 489.5,635.9 490.1,634.1 490.6,639.0 491.1,632.4 491.7,618.5 492.2,624.2 492.8,628.1 493.3,626.0 493.8,624.8 494.4,629.1 494.9,637.5 495.4,635.2 496.0,620.3 496.5,629.9 497.1,624.7 497.6,630.1 498.1,621.1 498.7,623.1 499.2,626.5 499.7,619.0 500.3,633.4 500.8,635.1 501.4,637.9 501.9,637.5 502.4,635.0 503.0,636.2 503.5,629.2 504.0,620.7 504.6,637.4 505.1,639.1 505.7,635.6 506.2,629.4 506.7,619.2 507.3,618.5 507.8,620.4 508.3,619.1 508.9,611.8 509.4,631.3 510.0,635.9 510.5,629.0" stroke="#ff1400"/>
</g>
<rect x="53.3" y="400.5" width="457.3" height="340.70000000000005" fill="none" stroke="#000" stroke-width="1.2"/>
<line x1="80.5" x2="80.5" y1="741.2" y2="745.4000000000001" stroke="#000" stroke-width="1.2"/><text x="80.5" y="759.3" text-anchor="middle" font-size="14.3" font-family="DejaVu Sans, Liberation Sans, sans-serif" stroke="#000" stroke-width="0.45">0</text><line x1="134.2" x2="134.2" y1="741.2" y2="745.4000000000001" stroke="#000" stroke-width="1.2"/><text x="134.2" y="759.3" text-anchor="middle" font-size="14.3" font-family="DejaVu Sans, Liberation Sans, sans-serif" stroke="#000" stroke-width="0.45">10</text><line x1="188.0" x2="188.0" y1="741.2" y2="745.4000000000001" stroke="#000" stroke-width="1.2"/><text x="188.0" y="759.3" text-anchor="middle" font-size="14.3" font-family="DejaVu Sans, Liberation Sans, sans-serif" stroke="#000" stroke-width="0.45">20</text><line x1="241.8" x2="241.8" y1="741.2" y2="745.4000000000001" stroke="#000" stroke-width="1.2"/><text x="241.8" y="759.3" text-anchor="middle" font-size="14.3" font-family="DejaVu Sans, Liberation Sans, sans-serif" stroke="#000" stroke-width="0.45">30</text><line x1="295.5" x2="295.5" y1="741.2" y2="745.4000000000001" stroke="#000" stroke-width="1.2"/><text x="295.5" y="759.3" text-anchor="middle" font-size="14.3" font-family="DejaVu Sans, Liberation Sans, sans-serif" stroke="#000" stroke-width="0.45">40</text><line x1="349.2" x2="349.2" y1="741.2" y2="745.4000000000001" stroke="#000" stroke-width="1.2"/><text x="349.2" y="759.3" text-anchor="middle" font-size="14.3" font-family="DejaVu Sans, Liberation Sans, sans-serif" stroke="#000" stroke-width="0.45">50</text><line x1="403.0" x2="403.0" y1="741.2" y2="745.4000000000001" stroke="#000" stroke-width="1.2"/><text x="403.0" y="759.3" text-anchor="middle" font-size="14.3" font-family="DejaVu Sans, Liberation Sans, sans-serif" stroke="#000" stroke-width="0.45">60</text><line x1="456.8" x2="456.8" y1="741.2" y2="745.4000000000001" stroke="#000" stroke-width="1.2"/><text x="456.8" y="759.3" text-anchor="middle" font-size="14.3" font-family="DejaVu Sans, Liberation Sans, sans-serif" stroke="#000" stroke-width="0.45">70</text><line x1="510.5" x2="510.5" y1="741.2" y2="745.4000000000001" stroke="#000" stroke-width="1.2"/><text x="510.5" y="759.3" text-anchor="middle" font-size="14.3" font-family="DejaVu Sans, Liberation Sans, sans-serif" stroke="#000" stroke-width="0.45">80</text><line x1="49.099999999999994" x2="53.3" y1="713.8" y2="713.8" stroke="#000" stroke-width="1.2"/><text x="45.4" y="719.2" text-anchor="end" font-size="14.3" font-family="DejaVu Sans, Liberation Sans, sans-serif" stroke="#000" stroke-width="0.45">−4</text><line x1="49.099999999999994" x2="53.3" y1="674.4" y2="674.4" stroke="#000" stroke-width="1.2"/><text x="45.4" y="679.8" text-anchor="end" font-size="14.3" font-family="DejaVu Sans, Liberation Sans, sans-serif" stroke="#000" stroke-width="0.45">−2</text><line x1="49.099999999999994" x2="53.3" y1="635.0" y2="635.0" stroke="#000" stroke-width="1.2"/><text x="45.4" y="640.4" text-anchor="end" font-size="14.3" font-family="DejaVu Sans, Liberation Sans, sans-serif" stroke="#000" stroke-width="0.45">0</text><line x1="49.099999999999994" x2="53.3" y1="595.6" y2="595.6" stroke="#000" stroke-width="1.2"/><text x="45.4" y="601.0" text-anchor="end" font-size="14.3" font-family="DejaVu Sans, Liberation Sans, sans-serif" stroke="#000" stroke-width="0.45">2</text><line x1="49.099999999999994" x2="53.3" y1="556.2" y2="556.2" stroke="#000" stroke-width="1.2"/><text x="45.4" y="561.6" text-anchor="end" font-size="14.3" font-family="DejaVu Sans, Liberation Sans, sans-serif" stroke="#000" stroke-width="0.45">4</text><line x1="49.099999999999994" x2="53.3" y1="516.8" y2="516.8" stroke="#000" stroke-width="1.2"/><text x="45.4" y="522.2" text-anchor="end" font-size="14.3" font-family="DejaVu Sans, Liberation Sans, sans-serif" stroke="#000" stroke-width="0.45">6</text><line x1="49.099999999999994" x2="53.3" y1="477.4" y2="477.4" stroke="#000" stroke-width="1.2"/><text x="45.4" y="482.8" text-anchor="end" font-size="14.3" font-family="DejaVu Sans, Liberation Sans, sans-serif" stroke="#000" stroke-width="0.45">8</text><line x1="49.099999999999994" x2="53.3" y1="438.0" y2="438.0" stroke="#000" stroke-width="1.2"/><text x="45.4" y="443.4" text-anchor="end" font-size="14.3" font-family="DejaVu Sans, Liberation Sans, sans-serif" stroke="#000" stroke-width="0.45">10</text>
<text x="282.5" y="781.3" text-anchor="middle" font-size="18.2" font-family="DejaVu Sans, Liberation Sans, sans-serif" stroke="#000" stroke-width="0.45">Time [ns]</text>
<text transform="translate(16.5,571) rotate(-90)" text-anchor="middle" font-size="18.2" font-family="DejaVu Sans, Liberation Sans, sans-serif" stroke="#000" stroke-width="0.45">Signal [mV]</text>
<rect x="386.7" y="406.3" width="118.5" height="185.4" rx="3" ry="3" fill="#fff" fill-opacity="0.8" stroke="#ccc" stroke-width="1.2"/>
<text x="445.5" y="422.7" text-anchor="middle" font-size="14.3" font-family="DejaVu Sans, Liberation Sans, sans-serif" stroke="#000" stroke-width="0.45">Y-Position [µm]</text>
<line x1="412.3" x2="437.9" y1="437.2" y2="437.2" stroke="#000080" stroke-width="2"/>
<text x="447.3" y="441.7" font-size="12.2" font-family="DejaVu Sans, Liberation Sans, sans-serif" stroke="#000" stroke-width="0.45">0.0</text>
<line x1="412.3" x2="437.9" y1="455.2" y2="455.2" stroke="#0000ff" stroke-width="2"/>
<text x="447.3" y="459.7" font-size="12.2" font-family="DejaVu Sans, Liberation Sans, sans-serif" stroke="#000" stroke-width="0.45">-5.0</text>
<line x1="412.3" x2="437.9" y1="473.2" y2="473.2" stroke="#0063ff" stroke-width="2"/>
<text x="447.3" y="477.7" font-size="12.2" font-family="DejaVu Sans, Liberation Sans, sans-serif" stroke="#000" stroke-width="0.45">-10.0</text>
<line x1="412.3" x2="437.9" y1="491.2" y2="491.2" stroke="#00d4ff" stroke-width="2"/>
<text x="447.3" y="495.7" font-size="12.2" font-family="DejaVu Sans, Liberation Sans, sans-serif" stroke="#000" stroke-width="0.45">-15.0</text>
<line x1="412.3" x2="437.9" y1="509.2" y2="509.2" stroke="#4effa9" stroke-width="2"/>
<text x="447.3" y="513.7" font-size="12.2" font-family="DejaVu Sans, Liberation Sans, sans-serif" stroke="#000" stroke-width="0.45">-20.0</text>
<line x1="412.3" x2="437.9" y1="527.1" y2="527.1" stroke="#a9ff4e" stroke-width="2"/>
<text x="447.3" y="531.6" font-size="12.2" font-family="DejaVu Sans, Liberation Sans, sans-serif" stroke="#000" stroke-width="0.45">-25.0</text>
<line x1="412.3" x2="437.9" y1="545.1" y2="545.1" stroke="#ffe600" stroke-width="2"/>
<text x="447.3" y="549.6" font-size="12.2" font-family="DejaVu Sans, Liberation Sans, sans-serif" stroke="#000" stroke-width="0.45">-30.0</text>
<line x1="412.3" x2="437.9" y1="563.1" y2="563.1" stroke="#ff7d00" stroke-width="2"/>
<text x="447.3" y="567.6" font-size="12.2" font-family="DejaVu Sans, Liberation Sans, sans-serif" stroke="#000" stroke-width="0.45">-35.0</text>
<line x1="412.3" x2="437.9" y1="581.1" y2="581.1" stroke="#ff1400" stroke-width="2"/>
<text x="447.3" y="585.6" font-size="12.2" font-family="DejaVu Sans, Liberation Sans, sans-serif" stroke="#000" stroke-width="0.45">-40.0</text>
<text transform="translate(0.6,782.3) scale(0.96,1)" font-size="20.8" font-family="Liberation Sans, Arial, sans-serif" stroke="#000" stroke-width="0.4">(b)</text>
</svg>
</body></html>
